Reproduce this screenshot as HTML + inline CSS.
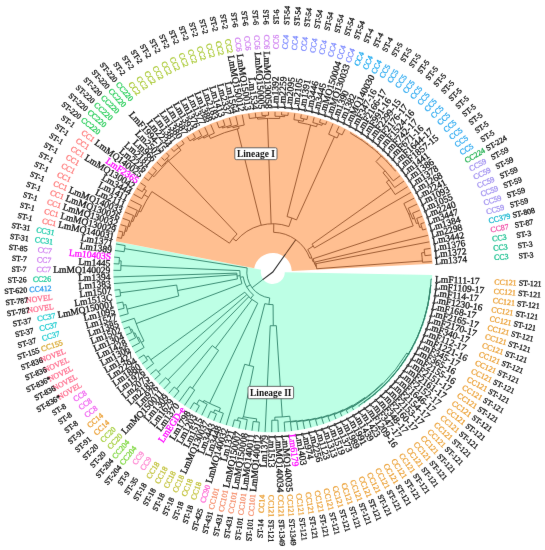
<!DOCTYPE html>
<html><head><meta charset="utf-8"><title>Phylogenetic tree</title>
<style>html,body{margin:0;padding:0;background:#fff;width:545px;height:550px;overflow:hidden}
svg{display:block} text{font-family:"Liberation Serif","Times New Roman",serif;stroke-width:0.3px}</style></head>
<body><svg width="545" height="550" viewBox="0 0 545 550" font-family="Liberation Serif, Times New Roman, serif" fill="#111"><defs><filter id="bl" color-interpolation-filters="sRGB" x="0" y="0" width="100%" height="100%" filterUnits="userSpaceOnUse"><feConvolveMatrix order="3" kernelMatrix="0.00276 0.04704 0.00276 0.04704 0.80077 0.04704 0.00276 0.04704 0.00276" edgeMode="duplicate" preserveAlpha="false"/></filter></defs><g filter="url(#bl)"><g transform="translate(0 272.0) scale(1 1.005) translate(0 -272.0)"><path d="M432.27,275.06 A159.5,159.5 0 1 1 116.23,241.57 L261.02,269.71 A12,12 0 1 0 284.80,272.23 Z" fill="#BDFFE5"/>
<path d="M115.74,241.47 A160,160 0 0 1 432.60,263.91 L291.78,271.04 A19,19 0 0 0 254.15,268.37 Z" fill="#FFBF91"/>
<path d="M273.63,232.51A39.5,39.5 0 0 1 309.87,258.36M273.63,232.51L273.81,224.01M236.03,241.15A48,48 0 0 1 288.86,226.77M236.03,241.15L232.97,238.58M229.44,243.30A52,52 0 0 1 237.07,234.22M229.44,243.30L151.89,191.97M140.73,212.15A145,145 0 0 1 151.89,191.97M140.73,212.15L138.91,211.33M136.54,216.84A147,147 0 0 1 141.49,205.92M136.54,216.84L135.06,216.24M132.93,221.81A148.6,148.6 0 0 1 137.41,210.75M132.93,221.81L131.43,221.27M129.56,226.80A150.2,150.2 0 0 1 133.50,215.82M129.56,226.80L128.04,226.32M126.48,231.59A151.79999999999998,151.79999999999998 0 0 1 129.79,221.10M126.48,231.59L124.93,231.17M123.74,235.78A153.39999999999998,153.39999999999998 0 0 1 126.27,226.59M123.74,235.78L122.18,235.40M121.46,238.53A154.99999999999997,154.99999999999997 0 0 1 122.97,232.29M121.46,238.53L117.26,237.60M122.97,232.29L118.82,231.19M126.27,226.59L120.64,224.85M129.79,221.10L122.72,218.58M133.50,215.82L125.06,212.41M137.41,210.75L127.66,206.34M141.49,205.92L130.50,200.39M148.34,197.60L144.05,195.04M141.72,199.08A150,150 0 0 1 146.50,191.08M141.72,199.08L133.59,194.56M146.50,191.08L143.98,189.46M142.29,192.14A153,153 0 0 1 145.71,186.81M142.29,192.14L136.92,188.86M145.71,186.81L140.48,183.30M237.07,234.22L168.36,161.56M153.98,177.20A152,152 0 0 1 180.96,150.88M153.98,177.20L152.42,175.96M148.54,181.03A154,154 0 0 1 156.50,171.05M148.54,181.03L144.27,177.89M152.42,175.96L148.28,172.65M156.50,171.05L152.50,167.58M165.53,164.31L164.83,163.60M161.51,167.01A153,153 0 0 1 168.25,160.30M161.51,167.01L156.93,162.68M168.25,160.30L166.88,158.84M164.56,161.06A155,155 0 0 1 169.25,156.67M164.56,161.06L161.55,157.98M169.25,156.67L166.37,153.47M180.96,150.88L178.85,148.09M173.79,152.09A155.5,155.5 0 0 1 184.06,144.31M173.79,152.09L171.37,149.16M178.85,148.09L176.55,145.07M184.06,144.31L181.89,141.19M261.19,225.43L237.29,129.56M210.40,139.12A146.8,146.8 0 0 1 239.07,129.13M210.40,139.12L209.04,136.22M203.82,138.80A150,150 0 0 1 214.36,133.85M203.82,138.80L203.13,137.47M198.30,140.08A151.5,151.5 0 0 1 208.05,135.03M198.30,140.08L197.56,138.78M193.46,141.18A153.0,153.0 0 0 1 201.74,136.50M193.46,141.18L192.68,139.90M189.96,141.59A154.5,154.5 0 0 1 195.43,138.27M189.96,141.59L187.39,137.53M195.43,138.27L193.03,134.11M201.74,136.50L198.81,130.93M208.05,135.03L204.72,127.98M214.36,133.85L210.74,125.29M239.07,129.13L238.56,126.99M232.96,128.43A149,149 0 0 1 244.22,125.77M232.96,128.43L232.58,127.08M227.36,128.63A150.4,150.4 0 0 1 237.86,125.71M227.36,128.63L226.93,127.29M222.46,128.79A151.8,151.8 0 0 1 231.45,125.94M222.46,128.79L222.00,127.47M219.01,128.55A153.20000000000002,153.20000000000002 0 0 1 225.00,126.45M219.01,128.55L216.87,122.84M225.00,126.45L223.10,120.65M231.45,125.94L229.41,118.72M237.86,125.71L235.80,117.06M244.22,125.77L242.25,115.66M271.12,224.03L267.46,119.19M257.57,119.86A152.9,152.9 0 0 1 279.72,119.26M257.57,119.86L257.41,118.27M249.47,119.27A154.5,154.5 0 0 1 265.39,117.68M249.47,119.27L248.75,114.53M255.82,118.44L255.29,113.67M265.39,117.68L265.32,116.18M262.09,116.37A156,156 0 0 1 268.55,116.06M262.09,116.37L261.87,113.08M268.55,116.06L268.46,112.76M279.72,119.26L279.81,117.16M275.00,117.02A155,155 0 0 1 284.62,117.45M275.00,117.02L275.06,112.72M284.62,117.45L284.73,115.96M281.50,115.74A156.5,156.5 0 0 1 287.96,116.24M281.50,115.74L281.65,112.95M287.96,116.24L288.23,113.45M288.86,226.77L291.87,218.29M287.07,216.82A57,57 0 0 1 296.53,220.17M287.07,216.82L310.63,125.71M298.30,123.07A151.1,151.1 0 0 1 316.56,127.38M298.30,123.07L298.62,121.19M293.92,120.46A153,153 0 0 1 303.29,122.07M293.92,120.46L294.79,114.22M303.29,122.07L303.79,119.62M300.63,119.01A155.5,155.5 0 0 1 306.94,120.29M300.63,119.01L301.31,115.27M306.94,120.29L307.77,116.59M316.56,127.38L317.40,124.60M312.80,123.29A154,154 0 0 1 321.96,126.06M312.80,123.29L314.18,118.17M321.96,126.06L322.60,124.16M319.53,123.16A156,156 0 0 1 325.65,125.23M319.53,123.16L320.52,120.01M325.65,125.23L326.77,122.12M296.53,220.17L334.41,137.43M328.67,134.95A148,148 0 0 1 337.07,138.68M328.67,134.95L332.93,124.49M337.07,138.68L339.24,134.18M336.37,132.83A153,153 0 0 1 342.08,135.59M336.37,132.83L338.99,127.10M342.08,135.59L344.94,129.97M309.87,258.36L311.75,257.67M307.79,249.68A41.5,41.5 0 0 1 313.03,261.79M307.79,249.68L313.27,246.19M312.01,244.32A48,48 0 0 1 314.44,248.12M312.01,244.32L390.93,188.60M386.38,182.51A144.6,144.6 0 0 1 395.14,194.92M386.38,182.51L389.05,180.41M382.99,173.20A148,148 0 0 1 394.64,187.99M382.99,173.20L385.08,171.33M376.03,162.07A150.8,150.8 0 0 1 393.30,181.33M376.03,162.07L381.30,156.46M350.37,133.78A158.5,158.5 0 0 1 395.39,171.54M350.37,133.78L350.76,133.08M356.03,137.11L356.45,136.43M361.54,140.67L361.99,140.01M366.91,144.46L367.38,143.82M372.11,148.47L372.61,147.84M377.14,152.69L377.67,152.09M381.99,157.11L382.54,156.53M386.66,161.73L387.23,161.18M391.13,166.54L391.72,166.01M395.39,171.54L396.01,171.03M393.30,181.33L400.09,176.22M394.64,187.99L403.95,181.57M395.14,194.92L407.58,187.08M314.44,248.12L410.98,192.74M313.03,261.79L313.99,261.55M313.20,258.80A42.5,42.5 0 0 1 314.61,264.35M313.20,258.80L413.19,226.11M403.85,203.88A147.7,147.7 0 0 1 413.19,226.11M403.85,203.88L414.15,198.53M408.89,214.61L410.55,213.91M408.19,208.61A149.5,149.5 0 0 1 412.71,219.31M408.19,208.61L417.07,204.45M412.71,219.31L414.58,218.60M412.55,213.50A151.5,151.5 0 0 1 416.42,223.77M412.55,213.50L419.74,210.48M416.42,223.77L418.32,223.14M416.73,218.64A153.5,153.5 0 0 1 419.76,227.68M416.73,218.64L422.17,216.62M419.76,227.68L421.68,227.10M420.72,224.03A155.5,155.5 0 0 1 422.58,230.20M420.72,224.03L424.33,222.86M422.58,230.20L426.24,229.18M314.61,264.35L315.29,264.22M314.86,262.12A43.2,43.2 0 0 1 315.63,266.34M314.86,262.12L427.88,235.57M315.63,266.34L316.42,266.24M316.01,263.72A44,44 0 0 1 316.68,268.78M316.01,263.72L429.25,242.02M316.68,268.78L422.40,261.01M421.59,252.98A150,150 0 0 1 422.48,262.26M421.59,252.98L424.56,252.60M424.13,249.46A153,153 0 0 1 424.93,255.75M424.13,249.46L430.36,248.53M424.93,255.75L431.20,255.08M422.48,262.26L431.76,261.65" fill="none" stroke="#94522A" stroke-width="0.9"/>
<path d="M269.69,297.81A26,26 0 0 1 247.11,267.97M247.11,267.97L124.61,248.77M124.16,251.84A150,150 0 0 1 125.12,245.71M124.16,251.84L114.94,250.60M125.12,245.71L115.97,244.08M250.17,284.81L246.69,286.78M253.48,294.95A30,30 0 0 1 243.18,276.75M253.48,294.95L250.58,298.39M257.78,303.06A34.5,34.5 0 0 1 244.75,292.08M257.78,303.06L209.60,402.73M220.39,407.41A145.2,145.2 0 0 1 204.00,399.87M220.39,407.41L219.01,410.95M223.36,412.56A149,149 0 0 1 214.72,409.22M223.36,412.56L219.94,422.27M214.72,409.22L213.55,411.98M216.47,413.18A152,152 0 0 1 210.67,410.72M216.47,413.18L213.76,419.96M210.67,410.72L207.68,417.38M204.00,399.87L203.15,401.45M207.20,403.55A147,147 0 0 1 199.16,399.22M207.20,403.55L201.72,414.56M199.16,399.22L196.66,403.55M199.40,405.10A152,152 0 0 1 193.95,401.95M199.40,405.10L195.87,411.49M193.95,401.95L190.16,408.19M251.95,299.49L215.38,347.69M218.57,350.00A95,95 0 0 1 212.30,345.24M218.57,350.00L192.31,387.77M194.72,389.41A141,141 0 0 1 189.93,386.07M194.72,389.41L184.59,404.65M189.93,386.07L179.17,400.88M212.30,345.24L176.63,388.42M179.06,390.38A151,151 0 0 1 174.24,386.40M179.06,390.38L173.91,396.89M174.24,386.40L168.82,392.69M248.70,296.69L168.02,379.34M170.27,381.49A150,150 0 0 1 165.82,377.15M170.27,381.49L163.91,388.28M165.82,377.15L159.19,383.67M246.74,294.61L158.22,371.41M160.30,373.77A151.7,151.7 0 0 1 156.18,369.02M160.30,373.77L154.66,378.86M156.18,369.02L150.34,373.88M244.75,292.08L150.84,359.33M153.61,363.07A150,150 0 0 1 148.19,355.49M153.61,363.07L146.22,368.72M148.19,355.49L145.69,357.16M147.49,359.78A153,153 0 0 1 143.96,354.51M147.49,359.78L142.33,363.39M143.96,354.51L138.65,357.91M243.18,276.75L240.22,277.22M241.91,283.61A33,33 0 0 1 239.83,270.63M241.91,283.61L136.14,323.37M143.93,340.62A146,146 0 0 1 134.26,318.07M143.93,340.62L141.29,342.03M144.10,347.09A149,149 0 0 1 138.66,336.87M144.10,347.09L135.21,352.28M138.66,336.87L137.31,337.53M139.78,342.40A150.5,150.5 0 0 1 135.03,332.57M139.78,342.40L132.00,346.51M135.03,332.57L133.66,333.18M135.62,337.47A152.0,152.0 0 0 1 131.82,328.82M135.62,337.47L129.03,340.62M131.82,328.82L130.43,329.39M131.65,332.32A153.5,153.5 0 0 1 129.27,326.42M131.65,332.32L126.32,334.60M129.27,326.42L123.85,328.48M134.26,318.07L121.64,322.26M240.00,275.66L237.02,276.00M237.46,278.85A36,36 0 0 1 236.82,273.11M237.46,278.85L177.57,290.46M178.78,295.86A97,97 0 0 1 176.68,285.01M178.78,295.86L127.02,308.99M128.24,313.50A150.4,150.4 0 0 1 125.94,304.44M128.24,313.50L119.68,315.96M125.94,304.44L123.40,305.00M124.12,308.09A153,153 0 0 1 122.75,301.90M124.12,308.09L118.00,309.58M122.75,301.90L116.57,303.13M176.68,285.01L120.19,292.66M120.65,295.81A154,154 0 0 1 119.80,289.49M120.65,295.81L115.42,296.63M119.80,289.49L114.53,290.09M236.89,274.60L113.92,283.52M236.82,273.11L113.58,276.93M239.83,270.63L120.93,265.69M120.81,270.41A152,152 0 0 1 121.20,260.97M120.81,270.41L113.51,270.33M121.20,260.97L119.21,260.83M119.01,264.01A154,154 0 0 1 119.47,257.65M119.01,264.01L113.71,263.74M119.47,257.65L114.19,257.15M269.69,297.81L268.91,304.27M273.09,304.50A32.5,32.5 0 0 1 264.80,303.50M264.80,303.50L249.16,365.04M253.66,366.07A96,96 0 0 1 244.72,363.80M244.72,363.80L226.21,424.33M253.66,366.07L243.49,416.05M256.61,418.11A147,147 0 0 1 243.08,415.96M256.61,418.11L256.28,421.09M259.37,421.40A150,150 0 0 1 253.20,420.71M259.37,421.40L258.54,430.66M253.20,420.71L251.98,429.93M243.08,415.96L242.68,417.92M247.22,418.79A149,149 0 0 1 238.16,416.92M247.22,418.79L245.46,428.94M238.16,416.92L237.46,419.83M240.53,420.53A152,152 0 0 1 234.40,419.07M240.53,420.53L238.98,427.67M234.40,419.07L232.56,426.13M273.09,304.50L273.27,325.50M276.32,325.38A53.5,53.5 0 0 1 270.22,325.44M270.22,325.44L265.12,431.11M276.32,325.38L282.30,416.19M289.76,415.50A144.5,144.5 0 0 1 274.82,416.49M289.76,415.50L290.38,420.76M296.54,419.91A149.8,149.8 0 0 1 284.19,421.37M296.54,419.91L296.64,420.50M302.80,419.38A150.4,150.4 0 0 1 290.44,421.36M302.80,419.38L302.92,419.97M309.08,418.58A151.0,151.0 0 0 1 296.70,421.10M309.08,418.58L309.22,419.16M315.41,417.49A151.6,151.6 0 0 1 302.98,420.57M315.41,417.49L315.58,418.07M321.82,416.09A152.20000000000002,152.20000000000002 0 0 1 309.25,419.77M321.82,416.09L322.02,416.66M328.43,414.31A152.8,152.8 0 0 1 315.51,418.71M328.43,414.31L328.64,414.87M335.42,412.04A153.4,153.4 0 0 1 321.74,417.38M335.42,412.04L335.67,412.58M343.22,408.96A154.0,154.0 0 0 1 327.93,415.79M343.22,408.96L343.49,409.49M352.58,404.42A154.6,154.6 0 0 1 334.08,413.94M352.58,404.42L352.89,404.94M364.92,396.91A155.20000000000002,155.20000000000002 0 0 1 340.17,411.82M364.92,396.91L365.27,397.39M382.42,382.71A155.8,155.8 0 0 1 346.18,409.44M382.42,382.71L382.85,383.13M406.81,352.64A156.4,156.4 0 0 1 352.12,406.79M406.81,352.64L408.52,353.67M430.62,285.60A158.4,158.4 0 0 1 358.72,405.07M430.62,285.60L430.62,285.60M431.04,279.05A158.4,158.4 0 0 1 429.92,292.12M431.04,279.05L431.94,279.09M429.92,292.12L429.92,292.12M430.62,285.60A158.4,158.4 0 0 1 428.95,298.61M430.62,285.60L431.51,285.67M428.95,298.61L428.95,298.61M429.92,292.12A158.4,158.4 0 0 1 427.71,305.06M429.92,292.12L430.81,292.24M427.71,305.06L427.71,305.06M428.95,298.61A158.4,158.4 0 0 1 426.21,311.45M428.95,298.61L429.84,298.76M426.21,311.45L426.21,311.45M427.71,305.06A158.4,158.4 0 0 1 424.44,317.77M427.71,305.06L428.59,305.25M424.44,317.77L424.44,317.77M426.21,311.45A158.4,158.4 0 0 1 422.42,324.01M426.21,311.45L427.08,311.67M422.42,324.01L422.42,324.01M424.44,317.77A158.4,158.4 0 0 1 420.14,330.16M424.44,317.77L425.31,318.03M420.14,330.16L420.14,330.16M422.42,324.01A158.4,158.4 0 0 1 417.60,336.21M422.42,324.01L423.27,324.30M417.60,336.21L417.60,336.21M420.14,330.16A158.4,158.4 0 0 1 414.82,342.16M420.14,330.16L420.97,330.49M414.82,342.16L414.82,342.16M417.60,336.21A158.4,158.4 0 0 1 411.79,347.98M417.60,336.21L418.42,336.58M411.79,347.98L411.79,347.98M414.82,342.16A158.4,158.4 0 0 1 408.52,353.67M414.82,342.16L415.62,342.56M408.52,353.67L408.52,353.67M411.79,347.98A158.4,158.4 0 0 1 405.03,359.22M411.79,347.98L412.58,348.41M405.03,359.22L405.03,359.22M408.52,353.67A158.4,158.4 0 0 1 401.30,364.62M408.52,353.67L409.29,354.14M401.30,364.62L401.30,364.62M405.02,359.22A158.4,158.4 0 0 1 397.36,369.85M405.02,359.22L405.77,359.72M397.36,369.85L397.36,369.85M401.30,364.63A158.4,158.4 0 0 1 393.22,374.91M401.30,364.63L402.03,365.15M393.22,374.91L393.22,374.91M397.35,369.87A158.4,158.4 0 0 1 388.89,379.77M397.35,369.87L398.06,370.43M388.89,379.77L388.89,379.77M393.19,374.94A158.4,158.4 0 0 1 384.40,384.41M393.19,374.94L393.87,375.53M384.40,384.41L384.40,384.41M388.82,379.84A158.4,158.4 0 0 1 379.80,388.80M388.82,379.84L389.48,380.46M379.80,388.80L379.80,388.80M384.25,384.56A158.4,158.4 0 0 1 375.18,392.87M384.25,384.56L384.89,385.20M375.18,392.87L375.18,392.87M379.50,389.08A158.4,158.4 0 0 1 370.73,396.50M379.50,389.08L380.10,389.74M370.73,396.50L370.73,396.50M374.55,393.39A158.4,158.4 0 0 1 366.82,399.48M374.55,393.39L375.13,394.08M366.82,399.48L366.82,399.48M369.44,397.51A158.4,158.4 0 0 1 364.16,401.40M369.44,397.51L369.99,398.22M364.16,401.40L364.68,402.14M358.72,405.07L359.21,405.83M352.12,406.79L353.59,409.29M346.18,409.44L347.83,412.52M340.17,411.82L341.95,415.51M334.08,413.94L335.94,418.25M327.93,415.79L329.83,420.74M321.74,417.38L323.62,422.98M315.51,418.71L317.32,424.95M309.25,419.77L310.95,426.66M302.98,420.57L304.51,428.11M296.70,421.10L298.02,429.29M290.44,421.36L291.48,430.20M284.19,421.37L284.91,430.84M274.82,416.49L274.86,419.49M277.91,419.41A147.5,147.5 0 0 1 271.80,419.50M277.91,419.41L278.32,431.20M271.80,419.50L271.72,431.30" fill="none" stroke="#2E8068" stroke-width="0.9"/>
<path d="M262.43,279.84L272.8,272.0L285.58,254.09" fill="none" stroke="#2a2a2a" stroke-width="1.1"/>
<path d="M252.07,287.69L262.43,279.84" fill="none" stroke="#2E8068" stroke-width="0.9"/>
<path d="M285.58,254.09L295.74,239.84" fill="none" stroke="#6b3a1c" stroke-width="1"/>
<text x="435.14" y="279.23" transform="rotate(2.55 435.14 279.23)" text-anchor="start" dominant-baseline="central" style="font-size:9.5px" fill="#111" stroke="#111">LmF111-17</text>
<text x="494.38" y="281.87" transform="rotate(2.55 494.38 281.87)" text-anchor="start" dominant-baseline="central" style="font-size:7.85px" fill="#EBA035" stroke="#EBA035" stroke-width="0.18">CC121</text>
<text x="518.86" y="282.96" transform="rotate(2.55 518.86 282.96)" text-anchor="start" dominant-baseline="central" style="font-size:7.85px" fill="#111" stroke="#111">ST-121</text>
<text x="434.70" y="285.95" transform="rotate(4.92 434.70 285.95)" text-anchor="start" dominant-baseline="central" style="font-size:9.5px" fill="#111" stroke="#111">LmF1109-17</text>
<text x="493.78" y="291.04" transform="rotate(4.92 493.78 291.04)" text-anchor="start" dominant-baseline="central" style="font-size:7.85px" fill="#EBA035" stroke="#EBA035" stroke-width="0.18">CC121</text>
<text x="518.19" y="293.14" transform="rotate(4.92 518.19 293.14)" text-anchor="start" dominant-baseline="central" style="font-size:7.85px" fill="#111" stroke="#111">ST-121</text>
<text x="433.98" y="292.64" transform="rotate(7.30 433.98 292.64)" text-anchor="start" dominant-baseline="central" style="font-size:9.5px" fill="#111" stroke="#111">LmF114-17</text>
<text x="492.80" y="300.18" transform="rotate(7.30 492.80 300.18)" text-anchor="start" dominant-baseline="central" style="font-size:7.85px" fill="#EBA035" stroke="#EBA035" stroke-width="0.18">CC121</text>
<text x="517.10" y="303.29" transform="rotate(7.30 517.10 303.29)" text-anchor="start" dominant-baseline="central" style="font-size:7.85px" fill="#111" stroke="#111">ST-121</text>
<text x="432.99" y="299.30" transform="rotate(9.67 432.99 299.30)" text-anchor="start" dominant-baseline="central" style="font-size:9.5px" fill="#111" stroke="#111">LmF1230-16</text>
<text x="491.45" y="309.26" transform="rotate(9.67 491.45 309.26)" text-anchor="start" dominant-baseline="central" style="font-size:7.85px" fill="#EBA035" stroke="#EBA035" stroke-width="0.18">CC121</text>
<text x="515.60" y="313.38" transform="rotate(9.67 515.60 313.38)" text-anchor="start" dominant-baseline="central" style="font-size:7.85px" fill="#111" stroke="#111">ST-121</text>
<text x="431.72" y="305.91" transform="rotate(12.05 431.72 305.91)" text-anchor="start" dominant-baseline="central" style="font-size:9.5px" fill="#111" stroke="#111">LmF168-17</text>
<text x="489.72" y="318.29" transform="rotate(12.05 489.72 318.29)" text-anchor="start" dominant-baseline="central" style="font-size:7.85px" fill="#EBA035" stroke="#EBA035" stroke-width="0.18">CC121</text>
<text x="513.68" y="323.40" transform="rotate(12.05 513.68 323.40)" text-anchor="start" dominant-baseline="central" style="font-size:7.85px" fill="#111" stroke="#111">ST-121</text>
<text x="430.18" y="312.47" transform="rotate(14.42 430.18 312.47)" text-anchor="start" dominant-baseline="central" style="font-size:9.5px" fill="#111" stroke="#111">LmF2165-17</text>
<text x="487.61" y="327.23" transform="rotate(14.42 487.61 327.23)" text-anchor="start" dominant-baseline="central" style="font-size:7.85px" fill="#EBA035" stroke="#EBA035" stroke-width="0.18">CC121</text>
<text x="511.34" y="333.34" transform="rotate(14.42 511.34 333.34)" text-anchor="start" dominant-baseline="central" style="font-size:7.85px" fill="#111" stroke="#111">ST-121</text>
<text x="428.37" y="318.95" transform="rotate(16.79 428.37 318.95)" text-anchor="start" dominant-baseline="central" style="font-size:9.5px" fill="#111" stroke="#111">LmF2170-17</text>
<text x="485.14" y="336.09" transform="rotate(16.79 485.14 336.09)" text-anchor="start" dominant-baseline="central" style="font-size:7.85px" fill="#EBA035" stroke="#EBA035" stroke-width="0.18">CC121</text>
<text x="508.60" y="343.16" transform="rotate(16.79 508.60 343.16)" text-anchor="start" dominant-baseline="central" style="font-size:7.85px" fill="#111" stroke="#111">ST-121</text>
<text x="426.29" y="325.36" transform="rotate(19.17 426.29 325.36)" text-anchor="start" dominant-baseline="central" style="font-size:9.5px" fill="#111" stroke="#111">LmF340-17</text>
<text x="482.30" y="344.83" transform="rotate(19.17 482.30 344.83)" text-anchor="start" dominant-baseline="central" style="font-size:7.85px" fill="#EBA035" stroke="#EBA035" stroke-width="0.18">CC121</text>
<text x="505.45" y="352.87" transform="rotate(19.17 505.45 352.87)" text-anchor="start" dominant-baseline="central" style="font-size:7.85px" fill="#111" stroke="#111">ST-121</text>
<text x="423.95" y="331.67" transform="rotate(21.54 423.95 331.67)" text-anchor="start" dominant-baseline="central" style="font-size:9.5px" fill="#111" stroke="#111">LmF112-17</text>
<text x="479.11" y="353.44" transform="rotate(21.54 479.11 353.44)" text-anchor="start" dominant-baseline="central" style="font-size:7.85px" fill="#EBA035" stroke="#EBA035" stroke-width="0.18">CC121</text>
<text x="501.90" y="362.44" transform="rotate(21.54 501.90 362.44)" text-anchor="start" dominant-baseline="central" style="font-size:7.85px" fill="#111" stroke="#111">ST-121</text>
<text x="421.35" y="337.88" transform="rotate(23.92 421.35 337.88)" text-anchor="start" dominant-baseline="central" style="font-size:9.5px" fill="#111" stroke="#111">LmF1221-16</text>
<text x="475.56" y="361.92" transform="rotate(23.92 475.56 361.92)" text-anchor="start" dominant-baseline="central" style="font-size:7.85px" fill="#EBA035" stroke="#EBA035" stroke-width="0.18">CC121</text>
<text x="497.95" y="371.85" transform="rotate(23.92 497.95 371.85)" text-anchor="start" dominant-baseline="central" style="font-size:7.85px" fill="#111" stroke="#111">ST-121</text>
<text x="418.49" y="343.97" transform="rotate(26.29 418.49 343.97)" text-anchor="start" dominant-baseline="central" style="font-size:9.5px" fill="#111" stroke="#111">LmF345-17</text>
<text x="471.66" y="370.24" transform="rotate(26.29 471.66 370.24)" text-anchor="start" dominant-baseline="central" style="font-size:7.85px" fill="#EBA035" stroke="#EBA035" stroke-width="0.18">CC121</text>
<text x="493.62" y="381.09" transform="rotate(26.29 493.62 381.09)" text-anchor="start" dominant-baseline="central" style="font-size:7.85px" fill="#111" stroke="#111">ST-121</text>
<text x="415.39" y="349.95" transform="rotate(28.66 415.39 349.95)" text-anchor="start" dominant-baseline="central" style="font-size:9.5px" fill="#111" stroke="#111">LmF365-16</text>
<text x="467.42" y="378.39" transform="rotate(28.66 467.42 378.39)" text-anchor="start" dominant-baseline="central" style="font-size:7.85px" fill="#EBA035" stroke="#EBA035" stroke-width="0.18">CC121</text>
<text x="488.92" y="390.14" transform="rotate(28.66 488.92 390.14)" text-anchor="start" dominant-baseline="central" style="font-size:7.85px" fill="#111" stroke="#111">ST-121</text>
<text x="412.03" y="355.79" transform="rotate(31.04 412.03 355.79)" text-anchor="start" dominant-baseline="central" style="font-size:9.5px" fill="#111" stroke="#111">LmF2155-16</text>
<text x="462.84" y="386.36" transform="rotate(31.04 462.84 386.36)" text-anchor="start" dominant-baseline="central" style="font-size:7.85px" fill="#EBA035" stroke="#EBA035" stroke-width="0.18">CC121</text>
<text x="483.84" y="398.99" transform="rotate(31.04 483.84 398.99)" text-anchor="start" dominant-baseline="central" style="font-size:7.85px" fill="#111" stroke="#111">ST-121</text>
<text x="408.44" y="361.48" transform="rotate(33.41 408.44 361.48)" text-anchor="start" dominant-baseline="central" style="font-size:9.5px" fill="#111" stroke="#111">LmF2151-17</text>
<text x="457.94" y="394.14" transform="rotate(33.41 457.94 394.14)" text-anchor="start" dominant-baseline="central" style="font-size:7.85px" fill="#EBA035" stroke="#EBA035" stroke-width="0.18">CC121</text>
<text x="478.39" y="407.63" transform="rotate(33.41 478.39 407.63)" text-anchor="start" dominant-baseline="central" style="font-size:7.85px" fill="#111" stroke="#111">ST-121</text>
<text x="404.62" y="367.02" transform="rotate(35.79 404.62 367.02)" text-anchor="start" dominant-baseline="central" style="font-size:9.5px" fill="#111" stroke="#111">LmF2161-17</text>
<text x="452.73" y="401.70" transform="rotate(35.79 452.73 401.70)" text-anchor="start" dominant-baseline="central" style="font-size:7.85px" fill="#EBA035" stroke="#EBA035" stroke-width="0.18">CC121</text>
<text x="472.60" y="416.03" transform="rotate(35.79 472.60 416.03)" text-anchor="start" dominant-baseline="central" style="font-size:7.85px" fill="#111" stroke="#111">ST-121</text>
<text x="400.57" y="372.40" transform="rotate(38.16 400.57 372.40)" text-anchor="start" dominant-baseline="central" style="font-size:9.5px" fill="#111" stroke="#111">LmF2152-17</text>
<text x="447.20" y="409.04" transform="rotate(38.16 447.20 409.04)" text-anchor="start" dominant-baseline="central" style="font-size:7.85px" fill="#EBA035" stroke="#EBA035" stroke-width="0.18">CC121</text>
<text x="466.46" y="424.18" transform="rotate(38.16 466.46 424.18)" text-anchor="start" dominant-baseline="central" style="font-size:7.85px" fill="#111" stroke="#111">ST-121</text>
<text x="396.30" y="377.61" transform="rotate(40.53 396.30 377.61)" text-anchor="start" dominant-baseline="central" style="font-size:9.5px" fill="#111" stroke="#111">LmF1646-17</text>
<text x="441.37" y="416.15" transform="rotate(40.53 441.37 416.15)" text-anchor="start" dominant-baseline="central" style="font-size:7.85px" fill="#EBA035" stroke="#EBA035" stroke-width="0.18">CC121</text>
<text x="459.99" y="432.07" transform="rotate(40.53 459.99 432.07)" text-anchor="start" dominant-baseline="central" style="font-size:7.85px" fill="#111" stroke="#111">ST-121</text>
<text x="391.82" y="382.63" transform="rotate(42.91 391.82 382.63)" text-anchor="start" dominant-baseline="central" style="font-size:9.5px" fill="#111" stroke="#111">LmF2154-17</text>
<text x="435.26" y="423.01" transform="rotate(42.91 435.26 423.01)" text-anchor="start" dominant-baseline="central" style="font-size:7.85px" fill="#EBA035" stroke="#EBA035" stroke-width="0.18">CC121</text>
<text x="453.20" y="439.69" transform="rotate(42.91 453.20 439.69)" text-anchor="start" dominant-baseline="central" style="font-size:7.85px" fill="#111" stroke="#111">ST-121</text>
<text x="387.14" y="387.47" transform="rotate(45.28 387.14 387.47)" text-anchor="start" dominant-baseline="central" style="font-size:9.5px" fill="#111" stroke="#111">LmF2153-17</text>
<text x="428.86" y="429.61" transform="rotate(45.28 428.86 429.61)" text-anchor="start" dominant-baseline="central" style="font-size:7.85px" fill="#EBA035" stroke="#EBA035" stroke-width="0.18">CC121</text>
<text x="446.10" y="447.02" transform="rotate(45.28 446.10 447.02)" text-anchor="start" dominant-baseline="central" style="font-size:7.85px" fill="#111" stroke="#111">ST-121</text>
<text x="382.26" y="392.11" transform="rotate(47.66 382.26 392.11)" text-anchor="start" dominant-baseline="central" style="font-size:9.5px" fill="#111" stroke="#111">LmF2160-17</text>
<text x="422.20" y="435.94" transform="rotate(47.66 422.20 435.94)" text-anchor="start" dominant-baseline="central" style="font-size:7.85px" fill="#EBA035" stroke="#EBA035" stroke-width="0.18">CC121</text>
<text x="438.70" y="454.04" transform="rotate(47.66 438.70 454.04)" text-anchor="start" dominant-baseline="central" style="font-size:7.85px" fill="#111" stroke="#111">ST-121</text>
<text x="377.19" y="396.54" transform="rotate(50.03 377.19 396.54)" text-anchor="start" dominant-baseline="central" style="font-size:9.5px" fill="#111" stroke="#111">LmF348-17</text>
<text x="415.28" y="441.98" transform="rotate(50.03 415.28 441.98)" text-anchor="start" dominant-baseline="central" style="font-size:7.85px" fill="#EBA035" stroke="#EBA035" stroke-width="0.18">CC121</text>
<text x="431.02" y="460.76" transform="rotate(50.03 431.02 460.76)" text-anchor="start" dominant-baseline="central" style="font-size:7.85px" fill="#111" stroke="#111">ST-121</text>
<text x="371.94" y="400.75" transform="rotate(52.40 371.94 400.75)" text-anchor="start" dominant-baseline="central" style="font-size:9.5px" fill="#111" stroke="#111">LmF347-17</text>
<text x="408.12" y="447.74" transform="rotate(52.40 408.12 447.74)" text-anchor="start" dominant-baseline="central" style="font-size:7.85px" fill="#EBA035" stroke="#EBA035" stroke-width="0.18">CC121</text>
<text x="423.07" y="467.15" transform="rotate(52.40 423.07 467.15)" text-anchor="start" dominant-baseline="central" style="font-size:7.85px" fill="#111" stroke="#111">ST-121</text>
<text x="366.52" y="404.75" transform="rotate(54.78 366.52 404.75)" text-anchor="start" dominant-baseline="central" style="font-size:9.5px" fill="#111" stroke="#111">LmF1209-16</text>
<text x="400.72" y="453.19" transform="rotate(54.78 400.72 453.19)" text-anchor="start" dominant-baseline="central" style="font-size:7.85px" fill="#EBA035" stroke="#EBA035" stroke-width="0.18">CC121</text>
<text x="414.85" y="473.21" transform="rotate(54.78 414.85 473.21)" text-anchor="start" dominant-baseline="central" style="font-size:7.85px" fill="#111" stroke="#111">ST-121</text>
<text x="360.94" y="408.52" transform="rotate(57.15 360.94 408.52)" text-anchor="start" dominant-baseline="central" style="font-size:9.5px" fill="#111" stroke="#111">Lm1423</text>
<text x="393.11" y="458.34" transform="rotate(57.15 393.11 458.34)" text-anchor="start" dominant-baseline="central" style="font-size:7.85px" fill="#EBA035" stroke="#EBA035" stroke-width="0.18">CC121</text>
<text x="406.40" y="478.92" transform="rotate(57.15 406.40 478.92)" text-anchor="start" dominant-baseline="central" style="font-size:7.85px" fill="#111" stroke="#111">ST-121</text>
<text x="355.21" y="412.05" transform="rotate(59.53 355.21 412.05)" text-anchor="start" dominant-baseline="central" style="font-size:9.5px" fill="#111" stroke="#111">Lm1439</text>
<text x="385.29" y="463.16" transform="rotate(59.53 385.29 463.16)" text-anchor="start" dominant-baseline="central" style="font-size:7.85px" fill="#EBA035" stroke="#EBA035" stroke-width="0.18">CC121</text>
<text x="397.71" y="484.28" transform="rotate(59.53 397.71 484.28)" text-anchor="start" dominant-baseline="central" style="font-size:7.85px" fill="#111" stroke="#111">ST-121</text>
<text x="349.34" y="415.35" transform="rotate(61.90 349.34 415.35)" text-anchor="start" dominant-baseline="central" style="font-size:9.5px" fill="#111" stroke="#111">Lm1991</text>
<text x="377.27" y="467.66" transform="rotate(61.90 377.27 467.66)" text-anchor="start" dominant-baseline="central" style="font-size:7.85px" fill="#EBA035" stroke="#EBA035" stroke-width="0.18">CC121</text>
<text x="388.81" y="489.27" transform="rotate(61.90 388.81 489.27)" text-anchor="start" dominant-baseline="central" style="font-size:7.85px" fill="#111" stroke="#111">ST-121</text>
<text x="343.34" y="418.39" transform="rotate(64.27 343.34 418.39)" text-anchor="start" dominant-baseline="central" style="font-size:9.5px" fill="#111" stroke="#111">Lm1989</text>
<text x="369.08" y="471.82" transform="rotate(64.27 369.08 471.82)" text-anchor="start" dominant-baseline="central" style="font-size:7.85px" fill="#EBA035" stroke="#EBA035" stroke-width="0.18">CC121</text>
<text x="379.71" y="493.89" transform="rotate(64.27 379.71 493.89)" text-anchor="start" dominant-baseline="central" style="font-size:7.85px" fill="#111" stroke="#111">ST-121</text>
<text x="337.21" y="421.19" transform="rotate(66.65 337.21 421.19)" text-anchor="start" dominant-baseline="central" style="font-size:9.5px" fill="#111" stroke="#111">Lm1373</text>
<text x="360.72" y="475.63" transform="rotate(66.65 360.72 475.63)" text-anchor="start" dominant-baseline="central" style="font-size:7.85px" fill="#EBA035" stroke="#EBA035" stroke-width="0.18">CC121</text>
<text x="370.43" y="498.12" transform="rotate(66.65 370.43 498.12)" text-anchor="start" dominant-baseline="central" style="font-size:7.85px" fill="#111" stroke="#111">ST-121</text>
<text x="330.98" y="423.73" transform="rotate(69.02 330.98 423.73)" text-anchor="start" dominant-baseline="central" style="font-size:9.5px" fill="#111" stroke="#111">Lm1519</text>
<text x="352.21" y="479.10" transform="rotate(69.02 352.21 479.10)" text-anchor="start" dominant-baseline="central" style="font-size:7.85px" fill="#EBA035" stroke="#EBA035" stroke-width="0.18">CC121</text>
<text x="360.98" y="501.97" transform="rotate(69.02 360.98 501.97)" text-anchor="start" dominant-baseline="central" style="font-size:7.85px" fill="#111" stroke="#111">ST-121</text>
<text x="324.64" y="426.01" transform="rotate(71.40 324.64 426.01)" text-anchor="start" dominant-baseline="central" style="font-size:9.5px" fill="#111" stroke="#111">Lm1313</text>
<text x="343.56" y="482.21" transform="rotate(71.40 343.56 482.21)" text-anchor="start" dominant-baseline="central" style="font-size:7.85px" fill="#EBA035" stroke="#EBA035" stroke-width="0.18">CC121</text>
<text x="351.38" y="505.43" transform="rotate(71.40 351.38 505.43)" text-anchor="start" dominant-baseline="central" style="font-size:7.85px" fill="#111" stroke="#111">ST-121</text>
<text x="318.22" y="428.02" transform="rotate(73.77 318.22 428.02)" text-anchor="start" dominant-baseline="central" style="font-size:9.5px" fill="#111" stroke="#111">Lm1123</text>
<text x="334.79" y="484.96" transform="rotate(73.77 334.79 484.96)" text-anchor="start" dominant-baseline="central" style="font-size:7.85px" fill="#EBA035" stroke="#EBA035" stroke-width="0.18">CC121</text>
<text x="341.64" y="508.48" transform="rotate(73.77 341.64 508.48)" text-anchor="start" dominant-baseline="central" style="font-size:7.85px" fill="#111" stroke="#111">ST-121</text>
<text x="311.72" y="429.77" transform="rotate(76.14 311.72 429.77)" text-anchor="start" dominant-baseline="central" style="font-size:9.5px" fill="#111" stroke="#111">Lm2256</text>
<text x="325.92" y="487.35" transform="rotate(76.14 325.92 487.35)" text-anchor="start" dominant-baseline="central" style="font-size:7.85px" fill="#EBA035" stroke="#EBA035" stroke-width="0.18">CC121</text>
<text x="331.78" y="511.13" transform="rotate(76.14 331.78 511.13)" text-anchor="start" dominant-baseline="central" style="font-size:7.85px" fill="#111" stroke="#111">ST-121</text>
<text x="305.15" y="431.25" transform="rotate(78.52 305.15 431.25)" text-anchor="start" dominant-baseline="central" style="font-size:9.5px" fill="#111" stroke="#111">Lm974</text>
<text x="316.95" y="489.36" transform="rotate(78.52 316.95 489.36)" text-anchor="start" dominant-baseline="central" style="font-size:7.85px" fill="#EBA035" stroke="#EBA035" stroke-width="0.18">CC121</text>
<text x="321.83" y="513.37" transform="rotate(78.52 321.83 513.37)" text-anchor="start" dominant-baseline="central" style="font-size:7.85px" fill="#111" stroke="#111">ST-121</text>
<text x="298.52" y="432.45" transform="rotate(80.89 298.52 432.45)" text-anchor="start" dominant-baseline="central" style="font-size:9.5px" fill="#111" stroke="#111">Lm1403</text>
<text x="307.91" y="491.00" transform="rotate(80.89 307.91 491.00)" text-anchor="start" dominant-baseline="central" style="font-size:7.85px" fill="#EBA035" stroke="#EBA035" stroke-width="0.18">CC121</text>
<text x="311.79" y="515.19" transform="rotate(80.89 311.79 515.19)" text-anchor="start" dominant-baseline="central" style="font-size:7.85px" fill="#111" stroke="#111">ST-121</text>
<text x="291.85" y="433.38" transform="rotate(83.27 291.85 433.38)" text-anchor="start" dominant-baseline="central" style="font-size:9.5px" fill="#FF00FF" stroke="#FF00FF">Lm6179</text>
<text x="298.81" y="492.27" transform="rotate(83.27 298.81 492.27)" text-anchor="start" dominant-baseline="central" style="font-size:7.85px" fill="#EBA035" stroke="#EBA035" stroke-width="0.18">CC121</text>
<text x="301.68" y="516.60" transform="rotate(83.27 301.68 516.60)" text-anchor="start" dominant-baseline="central" style="font-size:7.85px" fill="#111" stroke="#111">ST-121</text>
<text x="285.15" y="434.03" transform="rotate(85.64 285.15 434.03)" text-anchor="start" dominant-baseline="central" style="font-size:9.5px" fill="#111" stroke="#111">LmMQ140035</text>
<text x="289.66" y="493.16" transform="rotate(85.64 289.66 493.16)" text-anchor="start" dominant-baseline="central" style="font-size:7.85px" fill="#EBA035" stroke="#EBA035" stroke-width="0.18">CC121</text>
<text x="291.52" y="517.59" transform="rotate(85.64 291.52 517.59)" text-anchor="start" dominant-baseline="central" style="font-size:7.85px" fill="#111" stroke="#111">ST-1349</text>
<text x="278.43" y="434.40" transform="rotate(88.01 278.43 434.40)" text-anchor="start" dominant-baseline="central" style="font-size:9.5px" fill="#111" stroke="#111">LmMQ140034</text>
<text x="280.49" y="493.67" transform="rotate(88.01 280.49 493.67)" text-anchor="start" dominant-baseline="central" style="font-size:7.85px" fill="#EBA035" stroke="#EBA035" stroke-width="0.18">CC121</text>
<text x="281.34" y="518.15" transform="rotate(88.01 281.34 518.15)" text-anchor="start" dominant-baseline="central" style="font-size:7.85px" fill="#111" stroke="#111">ST-1349</text>
<text x="271.70" y="434.50" transform="rotate(90.39 271.70 434.50)" text-anchor="start" dominant-baseline="central" style="font-size:9.5px" fill="#111" stroke="#111">Lm1513</text>
<text x="271.30" y="493.79" transform="rotate(90.39 271.30 493.79)" text-anchor="start" dominant-baseline="central" style="font-size:7.85px" fill="#EBA035" stroke="#EBA035" stroke-width="0.18">CC121</text>
<text x="271.13" y="518.29" transform="rotate(90.39 271.13 518.29)" text-anchor="start" dominant-baseline="central" style="font-size:7.85px" fill="#111" stroke="#111">ST-121</text>
<text x="264.97" y="434.31" transform="rotate(-87.24 264.97 434.31)" text-anchor="end" dominant-baseline="central" style="font-size:9.5px" fill="#111" stroke="#111">Lm1379</text>
<text x="262.11" y="493.54" transform="rotate(-87.24 262.11 493.54)" text-anchor="end" dominant-baseline="central" style="font-size:7.85px" fill="#EBA035" stroke="#EBA035" stroke-width="0.18">CC14</text>
<text x="260.93" y="518.01" transform="rotate(-87.24 260.93 518.01)" text-anchor="end" dominant-baseline="central" style="font-size:7.85px" fill="#111" stroke="#111">ST-14</text>
<text x="258.25" y="433.85" transform="rotate(-84.86 258.25 433.85)" text-anchor="end" dominant-baseline="central" style="font-size:9.5px" fill="#111" stroke="#111">LmMQ140012</text>
<text x="252.94" y="492.91" transform="rotate(-84.86 252.94 492.91)" text-anchor="end" dominant-baseline="central" style="font-size:7.85px" fill="#F5906E" stroke="#F5906E" stroke-width="0.18">CC101</text>
<text x="250.75" y="517.31" transform="rotate(-84.86 250.75 517.31)" text-anchor="end" dominant-baseline="central" style="font-size:7.85px" fill="#111" stroke="#111">ST-101</text>
<text x="251.56" y="433.11" transform="rotate(-82.49 251.56 433.11)" text-anchor="end" dominant-baseline="central" style="font-size:9.5px" fill="#111" stroke="#111">LmMQ140011</text>
<text x="243.81" y="491.90" transform="rotate(-82.49 243.81 491.90)" text-anchor="end" dominant-baseline="central" style="font-size:7.85px" fill="#F5906E" stroke="#F5906E" stroke-width="0.18">CC101</text>
<text x="240.61" y="516.19" transform="rotate(-82.49 240.61 516.19)" text-anchor="end" dominant-baseline="central" style="font-size:7.85px" fill="#111" stroke="#111">ST-101</text>
<text x="244.91" y="432.09" transform="rotate(-80.12 244.91 432.09)" text-anchor="end" dominant-baseline="central" style="font-size:9.5px" fill="#111" stroke="#111">LmMQ150008</text>
<text x="234.73" y="490.51" transform="rotate(-80.12 234.73 490.51)" text-anchor="end" dominant-baseline="central" style="font-size:7.85px" fill="#F5906E" stroke="#F5906E" stroke-width="0.18">CC101</text>
<text x="230.52" y="514.64" transform="rotate(-80.12 230.52 514.64)" text-anchor="end" dominant-baseline="central" style="font-size:7.85px" fill="#111" stroke="#111">ST-431</text>
<text x="238.30" y="430.80" transform="rotate(-77.74 238.30 430.80)" text-anchor="end" dominant-baseline="central" style="font-size:9.5px" fill="#111" stroke="#111">LmMQ150007</text>
<text x="225.71" y="488.74" transform="rotate(-77.74 225.71 488.74)" text-anchor="end" dominant-baseline="central" style="font-size:7.85px" fill="#F5906E" stroke="#F5906E" stroke-width="0.18">CC101</text>
<text x="220.51" y="512.68" transform="rotate(-77.74 220.51 512.68)" text-anchor="end" dominant-baseline="central" style="font-size:7.85px" fill="#111" stroke="#111">ST-431</text>
<text x="231.75" y="429.23" transform="rotate(-75.37 231.75 429.23)" text-anchor="end" dominant-baseline="central" style="font-size:9.5px" fill="#111" stroke="#111">Lm1321</text>
<text x="216.77" y="486.61" transform="rotate(-75.37 216.77 486.61)" text-anchor="end" dominant-baseline="central" style="font-size:7.85px" fill="#F5906E" stroke="#F5906E" stroke-width="0.18">CC101</text>
<text x="210.58" y="510.31" transform="rotate(-75.37 210.58 510.31)" text-anchor="end" dominant-baseline="central" style="font-size:7.85px" fill="#111" stroke="#111">ST-431</text>
<text x="225.27" y="427.39" transform="rotate(-72.99 225.27 427.39)" text-anchor="end" dominant-baseline="central" style="font-size:9.5px" fill="#111" stroke="#111">LmMQ140032</text>
<text x="207.93" y="484.10" transform="rotate(-72.99 207.93 484.10)" text-anchor="end" dominant-baseline="central" style="font-size:7.85px" fill="#FF5FD0" stroke="#FF5FD0" stroke-width="0.18">CC90</text>
<text x="200.76" y="507.53" transform="rotate(-72.99 200.76 507.53)" text-anchor="end" dominant-baseline="central" style="font-size:7.85px" fill="#111" stroke="#111">ST-425</text>
<text x="218.88" y="425.29" transform="rotate(-70.62 218.88 425.29)" text-anchor="end" dominant-baseline="central" style="font-size:9.5px" fill="#111" stroke="#111">Lm3448</text>
<text x="199.20" y="481.23" transform="rotate(-70.62 199.20 481.23)" text-anchor="end" dominant-baseline="central" style="font-size:7.85px" fill="#C2C23A" stroke="#C2C23A" stroke-width="0.18">CC18</text>
<text x="191.07" y="504.34" transform="rotate(-70.62 191.07 504.34)" text-anchor="end" dominant-baseline="central" style="font-size:7.85px" fill="#111" stroke="#111">ST-18</text>
<text x="212.57" y="422.93" transform="rotate(-68.25 212.57 422.93)" text-anchor="end" dominant-baseline="central" style="font-size:9.5px" fill="#111" stroke="#111">Lm3443</text>
<text x="190.60" y="478.00" transform="rotate(-68.25 190.60 478.00)" text-anchor="end" dominant-baseline="central" style="font-size:7.85px" fill="#C2C23A" stroke="#C2C23A" stroke-width="0.18">CC18</text>
<text x="181.52" y="500.76" transform="rotate(-68.25 181.52 500.76)" text-anchor="end" dominant-baseline="central" style="font-size:7.85px" fill="#111" stroke="#111">ST-18</text>
<text x="206.37" y="420.30" transform="rotate(-65.87 206.37 420.30)" text-anchor="end" dominant-baseline="central" style="font-size:9.5px" fill="#111" stroke="#111">LmMQ130037</text>
<text x="182.13" y="474.42" transform="rotate(-65.87 182.13 474.42)" text-anchor="end" dominant-baseline="central" style="font-size:7.85px" fill="#C2C23A" stroke="#C2C23A" stroke-width="0.18">CC18</text>
<text x="172.12" y="496.78" transform="rotate(-65.87 172.12 496.78)" text-anchor="end" dominant-baseline="central" style="font-size:7.85px" fill="#111" stroke="#111">ST-18</text>
<text x="200.29" y="417.42" transform="rotate(-63.50 200.29 417.42)" text-anchor="end" dominant-baseline="central" style="font-size:9.5px" fill="#111" stroke="#111">Lm1515</text>
<text x="173.83" y="470.49" transform="rotate(-63.50 173.83 470.49)" text-anchor="end" dominant-baseline="central" style="font-size:7.85px" fill="#C2C23A" stroke="#C2C23A" stroke-width="0.18">CC18</text>
<text x="162.89" y="492.42" transform="rotate(-63.50 162.89 492.42)" text-anchor="end" dominant-baseline="central" style="font-size:7.85px" fill="#111" stroke="#111">ST-18</text>
<text x="194.33" y="414.30" transform="rotate(-61.12 194.33 414.30)" text-anchor="end" dominant-baseline="central" style="font-size:9.5px" fill="#111" stroke="#111">Lm1203</text>
<text x="165.69" y="466.22" transform="rotate(-61.12 165.69 466.22)" text-anchor="end" dominant-baseline="central" style="font-size:7.85px" fill="#C2C23A" stroke="#C2C23A" stroke-width="0.18">CC18</text>
<text x="153.86" y="487.68" transform="rotate(-61.12 153.86 487.68)" text-anchor="end" dominant-baseline="central" style="font-size:7.85px" fill="#111" stroke="#111">ST-18</text>
<text x="188.50" y="410.92" transform="rotate(-58.75 188.50 410.92)" text-anchor="end" dominant-baseline="central" style="font-size:9.5px" fill="#111" stroke="#111">Lm1798</text>
<text x="157.74" y="461.62" transform="rotate(-58.75 157.74 461.62)" text-anchor="end" dominant-baseline="central" style="font-size:7.85px" fill="#C2C23A" stroke="#C2C23A" stroke-width="0.18">CC18</text>
<text x="145.03" y="482.56" transform="rotate(-58.75 145.03 482.56)" text-anchor="end" dominant-baseline="central" style="font-size:7.85px" fill="#111" stroke="#111">ST-18</text>
<text x="182.82" y="407.31" transform="rotate(-56.38 182.82 407.31)" text-anchor="end" dominant-baseline="central" style="font-size:9.5px" fill="#FF00FF" stroke="#FF00FF">LmEGD-e</text>
<text x="149.98" y="456.69" transform="rotate(-56.38 149.98 456.69)" text-anchor="end" dominant-baseline="central" style="font-size:7.85px" fill="#FF80CF" stroke="#FF80CF" stroke-width="0.18">CC9</text>
<text x="136.41" y="477.09" transform="rotate(-56.38 136.41 477.09)" text-anchor="end" dominant-baseline="central" style="font-size:7.85px" fill="#111" stroke="#111">ST-35</text>
<text x="177.29" y="403.47" transform="rotate(-54.00 177.29 403.47)" text-anchor="end" dominant-baseline="central" style="font-size:9.5px" fill="#111" stroke="#111">Lm1370</text>
<text x="142.44" y="451.44" transform="rotate(-54.00 142.44 451.44)" text-anchor="end" dominant-baseline="central" style="font-size:7.85px" fill="#FF80CF" stroke="#FF80CF" stroke-width="0.18">CC9</text>
<text x="128.04" y="471.27" transform="rotate(-54.00 128.04 471.27)" text-anchor="end" dominant-baseline="central" style="font-size:7.85px" fill="#111" stroke="#111">ST-9</text>
<text x="171.93" y="399.40" transform="rotate(-51.63 171.93 399.40)" text-anchor="end" dominant-baseline="central" style="font-size:9.5px" fill="#111" stroke="#111">Lm1679</text>
<text x="135.11" y="445.89" transform="rotate(-51.63 135.11 445.89)" text-anchor="end" dominant-baseline="central" style="font-size:7.85px" fill="#7CD63C" stroke="#7CD63C" stroke-width="0.18">CC204</text>
<text x="119.91" y="465.10" transform="rotate(-51.63 119.91 465.10)" text-anchor="end" dominant-baseline="central" style="font-size:7.85px" fill="#111" stroke="#111">ST-204</text>
<text x="166.74" y="395.11" transform="rotate(-49.25 166.74 395.11)" text-anchor="end" dominant-baseline="central" style="font-size:9.5px" fill="#111" stroke="#111">Lm1309</text>
<text x="128.03" y="440.04" transform="rotate(-49.25 128.03 440.04)" text-anchor="end" dominant-baseline="central" style="font-size:7.85px" fill="#7CD63C" stroke="#7CD63C" stroke-width="0.18">CC204</text>
<text x="112.04" y="458.60" transform="rotate(-49.25 112.04 458.60)" text-anchor="end" dominant-baseline="central" style="font-size:7.85px" fill="#111" stroke="#111">ST-204</text>
<text x="161.73" y="390.61" transform="rotate(-46.88 161.73 390.61)" text-anchor="end" dominant-baseline="central" style="font-size:9.5px" fill="#111" stroke="#111">LmMQ150011</text>
<text x="121.19" y="433.90" transform="rotate(-46.88 121.19 433.90)" text-anchor="end" dominant-baseline="central" style="font-size:7.85px" fill="#A5CE3C" stroke="#A5CE3C" stroke-width="0.18">CC20</text>
<text x="104.45" y="451.78" transform="rotate(-46.88 104.45 451.78)" text-anchor="end" dominant-baseline="central" style="font-size:7.85px" fill="#111" stroke="#111">ST-20</text>
<text x="156.91" y="385.91" transform="rotate(-44.51 156.91 385.91)" text-anchor="end" dominant-baseline="central" style="font-size:9.5px" fill="#111" stroke="#111">Lm976</text>
<text x="114.62" y="427.48" transform="rotate(-44.51 114.62 427.48)" text-anchor="end" dominant-baseline="central" style="font-size:7.85px" fill="#A5CE3C" stroke="#A5CE3C" stroke-width="0.18">CC20</text>
<text x="97.14" y="444.65" transform="rotate(-44.51 97.14 444.65)" text-anchor="end" dominant-baseline="central" style="font-size:7.85px" fill="#111" stroke="#111">ST-20</text>
<text x="152.29" y="381.01" transform="rotate(-42.13 152.29 381.01)" text-anchor="end" dominant-baseline="central" style="font-size:9.5px" fill="#111" stroke="#111">Lm2185</text>
<text x="108.31" y="420.79" transform="rotate(-42.13 108.31 420.79)" text-anchor="end" dominant-baseline="central" style="font-size:7.85px" fill="#EBA035" stroke="#EBA035" stroke-width="0.18">CC14</text>
<text x="90.14" y="437.23" transform="rotate(-42.13 90.14 437.23)" text-anchor="end" dominant-baseline="central" style="font-size:7.85px" fill="#111" stroke="#111">ST-91</text>
<text x="147.88" y="375.93" transform="rotate(-39.76 147.88 375.93)" text-anchor="end" dominant-baseline="central" style="font-size:9.5px" fill="#111" stroke="#111">Lm2075</text>
<text x="102.29" y="413.85" transform="rotate(-39.76 102.29 413.85)" text-anchor="end" dominant-baseline="central" style="font-size:7.85px" fill="#EBA035" stroke="#EBA035" stroke-width="0.18">CC14</text>
<text x="83.46" y="429.52" transform="rotate(-39.76 83.46 429.52)" text-anchor="end" dominant-baseline="central" style="font-size:7.85px" fill="#111" stroke="#111">ST-91</text>
<text x="143.68" y="370.66" transform="rotate(-37.38 143.68 370.66)" text-anchor="end" dominant-baseline="central" style="font-size:9.5px" fill="#111" stroke="#111">Lm1976</text>
<text x="96.56" y="406.67" transform="rotate(-37.38 96.56 406.67)" text-anchor="end" dominant-baseline="central" style="font-size:7.85px" fill="#F060F0" stroke="#F060F0" stroke-width="0.18">CC8</text>
<text x="77.09" y="421.54" transform="rotate(-37.38 77.09 421.54)" text-anchor="end" dominant-baseline="central" style="font-size:7.85px" fill="#111" stroke="#111">ST-8</text>
<text x="139.70" y="365.23" transform="rotate(-35.01 139.70 365.23)" text-anchor="end" dominant-baseline="central" style="font-size:9.5px" fill="#111" stroke="#111">Lm1880</text>
<text x="91.13" y="399.25" transform="rotate(-35.01 91.13 399.25)" text-anchor="end" dominant-baseline="central" style="font-size:7.85px" fill="#F060F0" stroke="#F060F0" stroke-width="0.18">CC8</text>
<text x="71.07" y="413.31" transform="rotate(-35.01 71.07 413.31)" text-anchor="end" dominant-baseline="central" style="font-size:7.85px" fill="#111" stroke="#111">ST-8</text>
<text x="135.96" y="359.64" transform="rotate(-32.64 135.96 359.64)" text-anchor="end" dominant-baseline="central" style="font-size:9.5px" fill="#111" stroke="#111">Lm2294</text>
<text x="86.02" y="391.62" transform="rotate(-32.64 86.02 391.62)" text-anchor="end" dominant-baseline="central" style="font-size:7.85px" fill="#F060F0" stroke="#F060F0" stroke-width="0.18">CC8</text>
<text x="65.39" y="404.83" transform="rotate(-32.64 65.39 404.83)" text-anchor="end" dominant-baseline="central" style="font-size:7.85px" fill="#111" stroke="#111">ST-8</text>
<text x="132.44" y="353.89" transform="rotate(-30.26 132.44 353.89)" text-anchor="end" dominant-baseline="central" style="font-size:9.5px" fill="#111" stroke="#111">Lm1427</text>
<text x="81.22" y="383.78" transform="rotate(-30.26 81.22 383.78)" text-anchor="end" dominant-baseline="central" style="font-size:7.85px" fill="#FF7090" stroke="#FF7090" stroke-width="0.18">NOVEL</text>
<text x="60.06" y="396.12" transform="rotate(-30.26 60.06 396.12)" text-anchor="end" dominant-baseline="central" style="font-size:7.85px" fill="#111" stroke="#111">ST-836*</text>
<text x="129.17" y="348.01" transform="rotate(-27.89 129.17 348.01)" text-anchor="end" dominant-baseline="central" style="font-size:9.5px" fill="#111" stroke="#111">Lm1306</text>
<text x="76.76" y="375.75" transform="rotate(-27.89 76.76 375.75)" text-anchor="end" dominant-baseline="central" style="font-size:7.85px" fill="#FF7090" stroke="#FF7090" stroke-width="0.18">NOVEL</text>
<text x="55.10" y="387.21" transform="rotate(-27.89 55.10 387.21)" text-anchor="end" dominant-baseline="central" style="font-size:7.85px" fill="#111" stroke="#111">ST-836</text>
<text x="126.15" y="341.99" transform="rotate(-25.51 126.15 341.99)" text-anchor="end" dominant-baseline="central" style="font-size:9.5px" fill="#111" stroke="#111">Lm1428</text>
<text x="72.63" y="367.54" transform="rotate(-25.51 72.63 367.54)" text-anchor="end" dominant-baseline="central" style="font-size:7.85px" fill="#FF7090" stroke="#FF7090" stroke-width="0.18">NOVEL</text>
<text x="50.52" y="378.09" transform="rotate(-25.51 50.52 378.09)" text-anchor="end" dominant-baseline="central" style="font-size:7.85px" fill="#111" stroke="#111">ST-836*</text>
<text x="123.37" y="335.86" transform="rotate(-23.14 123.37 335.86)" text-anchor="end" dominant-baseline="central" style="font-size:9.5px" fill="#111" stroke="#111">Lm1304</text>
<text x="68.84" y="359.16" transform="rotate(-23.14 68.84 359.16)" text-anchor="end" dominant-baseline="central" style="font-size:7.85px" fill="#FF7090" stroke="#FF7090" stroke-width="0.18">NOVEL</text>
<text x="46.32" y="368.79" transform="rotate(-23.14 46.32 368.79)" text-anchor="end" dominant-baseline="central" style="font-size:7.85px" fill="#111" stroke="#111">ST-836</text>
<text x="120.86" y="329.61" transform="rotate(-20.77 120.86 329.61)" text-anchor="end" dominant-baseline="central" style="font-size:9.5px" fill="#111" stroke="#111">Lm1502</text>
<text x="65.41" y="350.64" transform="rotate(-20.77 65.41 350.64)" text-anchor="end" dominant-baseline="central" style="font-size:7.85px" fill="#FF7090" stroke="#FF7090" stroke-width="0.18">NOVEL</text>
<text x="42.50" y="359.33" transform="rotate(-20.77 42.50 359.33)" text-anchor="end" dominant-baseline="central" style="font-size:7.85px" fill="#111" stroke="#111">ST-836</text>
<text x="118.60" y="323.27" transform="rotate(-18.39 118.60 323.27)" text-anchor="end" dominant-baseline="central" style="font-size:9.5px" fill="#111" stroke="#111">Lm1385</text>
<text x="62.33" y="341.98" transform="rotate(-18.39 62.33 341.98)" text-anchor="end" dominant-baseline="central" style="font-size:7.85px" fill="#D8A830" stroke="#D8A830" stroke-width="0.18">CC155</text>
<text x="39.08" y="349.71" transform="rotate(-18.39 39.08 349.71)" text-anchor="end" dominant-baseline="central" style="font-size:7.85px" fill="#111" stroke="#111">ST-155</text>
<text x="116.61" y="316.84" transform="rotate(-16.02 116.61 316.84)" text-anchor="end" dominant-baseline="central" style="font-size:9.5px" fill="#111" stroke="#111">Lm1527</text>
<text x="59.61" y="333.20" transform="rotate(-16.02 59.61 333.20)" text-anchor="end" dominant-baseline="central" style="font-size:7.85px" fill="#1CCBD0" stroke="#1CCBD0" stroke-width="0.18">CC37</text>
<text x="36.06" y="339.96" transform="rotate(-16.02 36.06 339.96)" text-anchor="end" dominant-baseline="central" style="font-size:7.85px" fill="#111" stroke="#111">ST-37</text>
<text x="114.89" y="310.33" transform="rotate(-13.64 114.89 310.33)" text-anchor="end" dominant-baseline="central" style="font-size:9.5px" fill="#111" stroke="#111">Lm1095</text>
<text x="57.26" y="324.32" transform="rotate(-13.64 57.26 324.32)" text-anchor="end" dominant-baseline="central" style="font-size:7.85px" fill="#1CCBD0" stroke="#1CCBD0" stroke-width="0.18">CC37</text>
<text x="33.45" y="330.10" transform="rotate(-13.64 33.45 330.10)" text-anchor="end" dominant-baseline="central" style="font-size:7.85px" fill="#111" stroke="#111">ST-37</text>
<text x="113.43" y="303.76" transform="rotate(-11.27 113.43 303.76)" text-anchor="end" dominant-baseline="central" style="font-size:9.5px" fill="#111" stroke="#111">LmMQ150001</text>
<text x="55.28" y="315.35" transform="rotate(-11.27 55.28 315.35)" text-anchor="end" dominant-baseline="central" style="font-size:7.85px" fill="#1CCBD0" stroke="#1CCBD0" stroke-width="0.18">CC37</text>
<text x="31.25" y="320.14" transform="rotate(-11.27 31.25 320.14)" text-anchor="end" dominant-baseline="central" style="font-size:7.85px" fill="#111" stroke="#111">ST-37</text>
<text x="112.25" y="297.13" transform="rotate(-8.90 112.25 297.13)" text-anchor="end" dominant-baseline="central" style="font-size:9.5px" fill="#111" stroke="#111">Lm1513C</text>
<text x="53.67" y="306.30" transform="rotate(-8.90 53.67 306.30)" text-anchor="end" dominant-baseline="central" style="font-size:7.85px" fill="#FF7090" stroke="#FF7090" stroke-width="0.18">NOVEL</text>
<text x="29.46" y="310.09" transform="rotate(-8.90 29.46 310.09)" text-anchor="end" dominant-baseline="central" style="font-size:7.85px" fill="#111" stroke="#111">ST-787</text>
<text x="111.35" y="290.46" transform="rotate(-6.52 111.35 290.46)" text-anchor="end" dominant-baseline="central" style="font-size:9.5px" fill="#111" stroke="#111">Lm1507</text>
<text x="52.44" y="297.19" transform="rotate(-6.52 52.44 297.19)" text-anchor="end" dominant-baseline="central" style="font-size:7.85px" fill="#FF7090" stroke="#FF7090" stroke-width="0.18">NOVEL</text>
<text x="28.09" y="299.98" transform="rotate(-6.52 28.09 299.98)" text-anchor="end" dominant-baseline="central" style="font-size:7.85px" fill="#111" stroke="#111">ST-787</text>
<text x="110.73" y="283.75" transform="rotate(-4.15 110.73 283.75)" text-anchor="end" dominant-baseline="central" style="font-size:9.5px" fill="#111" stroke="#111">Lm1383</text>
<text x="51.58" y="288.04" transform="rotate(-4.15 51.58 288.04)" text-anchor="end" dominant-baseline="central" style="font-size:7.85px" fill="#2C9CEE" stroke="#2C9CEE" stroke-width="0.18">CC412</text>
<text x="27.15" y="289.82" transform="rotate(-4.15 27.15 289.82)" text-anchor="end" dominant-baseline="central" style="font-size:7.85px" fill="#111" stroke="#111">ST-620</text>
<text x="110.38" y="277.03" transform="rotate(-1.77 110.38 277.03)" text-anchor="end" dominant-baseline="central" style="font-size:9.5px" fill="#111" stroke="#111">Lm1394</text>
<text x="51.11" y="278.87" transform="rotate(-1.77 51.11 278.87)" text-anchor="end" dominant-baseline="central" style="font-size:7.85px" fill="#1CCB9A" stroke="#1CCB9A" stroke-width="0.18">CC26</text>
<text x="26.62" y="279.62" transform="rotate(-1.77 26.62 279.62)" text-anchor="end" dominant-baseline="central" style="font-size:7.85px" fill="#111" stroke="#111">ST-26</text>
<text x="110.31" y="270.30" transform="rotate(0.60 110.31 270.30)" text-anchor="end" dominant-baseline="central" style="font-size:9.5px" fill="#111" stroke="#111">LmMQ140029</text>
<text x="51.01" y="269.68" transform="rotate(0.60 51.01 269.68)" text-anchor="end" dominant-baseline="central" style="font-size:7.85px" fill="#D080F0" stroke="#D080F0" stroke-width="0.18">CC7</text>
<text x="26.51" y="269.42" transform="rotate(0.60 26.51 269.42)" text-anchor="end" dominant-baseline="central" style="font-size:7.85px" fill="#111" stroke="#111">ST-7</text>
<text x="110.52" y="263.57" transform="rotate(2.97 110.52 263.57)" text-anchor="end" dominant-baseline="central" style="font-size:9.5px" fill="#111" stroke="#111">Lm1445</text>
<text x="51.30" y="260.49" transform="rotate(2.97 51.30 260.49)" text-anchor="end" dominant-baseline="central" style="font-size:7.85px" fill="#D080F0" stroke="#D080F0" stroke-width="0.18">CC7</text>
<text x="26.83" y="259.22" transform="rotate(2.97 26.83 259.22)" text-anchor="end" dominant-baseline="central" style="font-size:7.85px" fill="#111" stroke="#111">ST-7</text>
<text x="111.01" y="256.85" transform="rotate(5.35 111.01 256.85)" text-anchor="end" dominant-baseline="central" style="font-size:9.5px" fill="#FF00FF" stroke="#FF00FF">Lm10403S</text>
<text x="51.97" y="251.33" transform="rotate(5.35 51.97 251.33)" text-anchor="end" dominant-baseline="central" style="font-size:7.85px" fill="#D080F0" stroke="#D080F0" stroke-width="0.18">CC7</text>
<text x="27.57" y="249.04" transform="rotate(5.35 27.57 249.04)" text-anchor="end" dominant-baseline="central" style="font-size:7.85px" fill="#111" stroke="#111">ST-85</text>
<text x="111.77" y="250.17" transform="rotate(7.72 111.77 250.17)" text-anchor="end" dominant-baseline="central" style="font-size:9.5px" fill="#111" stroke="#111">Lm1389</text>
<text x="53.01" y="242.20" transform="rotate(7.72 53.01 242.20)" text-anchor="end" dominant-baseline="central" style="font-size:7.85px" fill="#1CCBAA" stroke="#1CCBAA" stroke-width="0.18">CC31</text>
<text x="28.73" y="238.91" transform="rotate(7.72 28.73 238.91)" text-anchor="end" dominant-baseline="central" style="font-size:7.85px" fill="#111" stroke="#111">ST-31</text>
<text x="112.82" y="243.51" transform="rotate(10.10 112.82 243.51)" text-anchor="end" dominant-baseline="central" style="font-size:9.5px" fill="#111" stroke="#111">Lm1371</text>
<text x="54.43" y="233.12" transform="rotate(10.10 54.43 233.12)" text-anchor="end" dominant-baseline="central" style="font-size:7.85px" fill="#1CCBAA" stroke="#1CCBAA" stroke-width="0.18">CC31</text>
<text x="30.31" y="228.82" transform="rotate(10.10 30.31 228.82)" text-anchor="end" dominant-baseline="central" style="font-size:7.85px" fill="#111" stroke="#111">ST-31</text>
<text x="114.13" y="236.91" transform="rotate(12.47 114.13 236.91)" text-anchor="end" dominant-baseline="central" style="font-size:9.5px" fill="#111" stroke="#111">LmMQ140031</text>
<text x="56.23" y="224.11" transform="rotate(12.47 56.23 224.11)" text-anchor="end" dominant-baseline="central" style="font-size:7.85px" fill="#FF7676" stroke="#FF7676" stroke-width="0.18">CC1</text>
<text x="32.31" y="218.82" transform="rotate(12.47 32.31 218.82)" text-anchor="end" dominant-baseline="central" style="font-size:7.85px" fill="#111" stroke="#111">ST-1</text>
<text x="115.72" y="230.37" transform="rotate(14.84 115.72 230.37)" text-anchor="end" dominant-baseline="central" style="font-size:9.5px" fill="#111" stroke="#111">LmMQ130029</text>
<text x="58.40" y="215.18" transform="rotate(14.84 58.40 215.18)" text-anchor="end" dominant-baseline="central" style="font-size:7.85px" fill="#FF7676" stroke="#FF7676" stroke-width="0.18">CC1</text>
<text x="34.72" y="208.90" transform="rotate(14.84 34.72 208.90)" text-anchor="end" dominant-baseline="central" style="font-size:7.85px" fill="#111" stroke="#111">ST-1</text>
<text x="117.58" y="223.90" transform="rotate(17.22 117.58 223.90)" text-anchor="end" dominant-baseline="central" style="font-size:9.5px" fill="#111" stroke="#111">LmMQ130032</text>
<text x="60.94" y="206.35" transform="rotate(17.22 60.94 206.35)" text-anchor="end" dominant-baseline="central" style="font-size:7.85px" fill="#FF7676" stroke="#FF7676" stroke-width="0.18">CC1</text>
<text x="37.54" y="199.09" transform="rotate(17.22 37.54 199.09)" text-anchor="end" dominant-baseline="central" style="font-size:7.85px" fill="#111" stroke="#111">ST-1</text>
<text x="119.71" y="217.51" transform="rotate(19.59 119.71 217.51)" text-anchor="end" dominant-baseline="central" style="font-size:9.5px" fill="#111" stroke="#111">LmMQ130026</text>
<text x="63.84" y="197.63" transform="rotate(19.59 63.84 197.63)" text-anchor="end" dominant-baseline="central" style="font-size:7.85px" fill="#FF7676" stroke="#FF7676" stroke-width="0.18">CC1</text>
<text x="40.76" y="189.41" transform="rotate(19.59 40.76 189.41)" text-anchor="end" dominant-baseline="central" style="font-size:7.85px" fill="#111" stroke="#111">ST-1</text>
<text x="122.10" y="211.22" transform="rotate(21.97 122.10 211.22)" text-anchor="end" dominant-baseline="central" style="font-size:9.5px" fill="#111" stroke="#111">LmMQ140033</text>
<text x="67.10" y="189.03" transform="rotate(21.97 67.10 189.03)" text-anchor="end" dominant-baseline="central" style="font-size:7.85px" fill="#FF7676" stroke="#FF7676" stroke-width="0.18">CC1</text>
<text x="44.38" y="179.87" transform="rotate(21.97 44.38 179.87)" text-anchor="end" dominant-baseline="central" style="font-size:7.85px" fill="#111" stroke="#111">ST-1</text>
<text x="124.74" y="205.03" transform="rotate(24.34 124.74 205.03)" text-anchor="end" dominant-baseline="central" style="font-size:9.5px" fill="#111" stroke="#111">Lm2111</text>
<text x="70.71" y="180.59" transform="rotate(24.34 70.71 180.59)" text-anchor="end" dominant-baseline="central" style="font-size:7.85px" fill="#FF7676" stroke="#FF7676" stroke-width="0.18">CC1</text>
<text x="48.39" y="170.49" transform="rotate(24.34 48.39 170.49)" text-anchor="end" dominant-baseline="central" style="font-size:7.85px" fill="#111" stroke="#111">ST-1</text>
<text x="127.64" y="198.95" transform="rotate(26.71 127.64 198.95)" text-anchor="end" dominant-baseline="central" style="font-size:9.5px" fill="#111" stroke="#111">Lm1411</text>
<text x="74.67" y="172.29" transform="rotate(26.71 74.67 172.29)" text-anchor="end" dominant-baseline="central" style="font-size:7.85px" fill="#FF7676" stroke="#FF7676" stroke-width="0.18">CC1</text>
<text x="52.79" y="161.28" transform="rotate(26.71 52.79 161.28)" text-anchor="end" dominant-baseline="central" style="font-size:7.85px" fill="#111" stroke="#111">ST-1</text>
<text x="130.80" y="193.00" transform="rotate(29.09 130.80 193.00)" text-anchor="end" dominant-baseline="central" style="font-size:9.5px" fill="#111" stroke="#111">Lm3444</text>
<text x="78.97" y="164.17" transform="rotate(29.09 78.97 164.17)" text-anchor="end" dominant-baseline="central" style="font-size:7.85px" fill="#FF7676" stroke="#FF7676" stroke-width="0.18">CC1</text>
<text x="57.56" y="152.26" transform="rotate(29.09 57.56 152.26)" text-anchor="end" dominant-baseline="central" style="font-size:7.85px" fill="#111" stroke="#111">ST-1</text>
<text x="134.19" y="187.19" transform="rotate(31.46 134.19 187.19)" text-anchor="end" dominant-baseline="central" style="font-size:9.5px" fill="#111" stroke="#111">LmMQ130042</text>
<text x="83.61" y="156.24" transform="rotate(31.46 83.61 156.24)" text-anchor="end" dominant-baseline="central" style="font-size:7.85px" fill="#FF7676" stroke="#FF7676" stroke-width="0.18">CC1</text>
<text x="62.71" y="143.45" transform="rotate(31.46 62.71 143.45)" text-anchor="end" dominant-baseline="central" style="font-size:7.85px" fill="#111" stroke="#111">ST-1</text>
<text x="137.82" y="181.52" transform="rotate(33.84 137.82 181.52)" text-anchor="end" dominant-baseline="central" style="font-size:9.5px" fill="#FF00FF" stroke="#FF00FF">LmF2365</text>
<text x="88.57" y="148.50" transform="rotate(33.84 88.57 148.50)" text-anchor="end" dominant-baseline="central" style="font-size:7.85px" fill="#FF7676" stroke="#FF7676" stroke-width="0.18">CC1</text>
<text x="68.21" y="134.86" transform="rotate(33.84 68.21 134.86)" text-anchor="end" dominant-baseline="central" style="font-size:7.85px" fill="#111" stroke="#111">ST-1</text>
<text x="141.69" y="176.00" transform="rotate(36.21 141.69 176.00)" text-anchor="end" dominant-baseline="central" style="font-size:9.5px" fill="#111" stroke="#111">LmMQ140025</text>
<text x="93.84" y="140.97" transform="rotate(36.21 93.84 140.97)" text-anchor="end" dominant-baseline="central" style="font-size:7.85px" fill="#FF7676" stroke="#FF7676" stroke-width="0.18">CC1</text>
<text x="74.07" y="126.50" transform="rotate(36.21 74.07 126.50)" text-anchor="end" dominant-baseline="central" style="font-size:7.85px" fill="#111" stroke="#111">ST-1</text>
<text x="145.77" y="170.66" transform="rotate(38.58 145.77 170.66)" text-anchor="end" dominant-baseline="central" style="font-size:9.5px" fill="#111" stroke="#111">Lm2226</text>
<text x="99.42" y="133.67" transform="rotate(38.58 99.42 133.67)" text-anchor="end" dominant-baseline="central" style="font-size:7.85px" fill="#22CC55" stroke="#22CC55" stroke-width="0.18">CC220</text>
<text x="80.27" y="118.39" transform="rotate(38.58 80.27 118.39)" text-anchor="end" dominant-baseline="central" style="font-size:7.85px" fill="#111" stroke="#111">ST-220</text>
<text x="150.08" y="165.48" transform="rotate(40.96 150.08 165.48)" text-anchor="end" dominant-baseline="central" style="font-size:9.5px" fill="#111" stroke="#111">Lm2181</text>
<text x="105.30" y="126.61" transform="rotate(40.96 105.30 126.61)" text-anchor="end" dominant-baseline="central" style="font-size:7.85px" fill="#22CC55" stroke="#22CC55" stroke-width="0.18">CC220</text>
<text x="86.80" y="110.55" transform="rotate(40.96 86.80 110.55)" text-anchor="end" dominant-baseline="central" style="font-size:7.85px" fill="#111" stroke="#111">ST-220</text>
<text x="154.60" y="160.49" transform="rotate(43.33 154.60 160.49)" text-anchor="end" dominant-baseline="central" style="font-size:9.5px" fill="#111" stroke="#111">Lm966</text>
<text x="111.46" y="119.80" transform="rotate(43.33 111.46 119.80)" text-anchor="end" dominant-baseline="central" style="font-size:7.85px" fill="#22CC55" stroke="#22CC55" stroke-width="0.18">CC220</text>
<text x="93.64" y="102.98" transform="rotate(43.33 93.64 102.98)" text-anchor="end" dominant-baseline="central" style="font-size:7.85px" fill="#111" stroke="#111">ST-220</text>
<text x="159.32" y="155.69" transform="rotate(45.71 159.32 155.69)" text-anchor="end" dominant-baseline="central" style="font-size:9.5px" fill="#111" stroke="#111">Lm2507</text>
<text x="117.91" y="113.24" transform="rotate(45.71 117.91 113.24)" text-anchor="end" dominant-baseline="central" style="font-size:7.85px" fill="#22CC55" stroke="#22CC55" stroke-width="0.18">CC220</text>
<text x="100.80" y="95.71" transform="rotate(45.71 100.80 95.71)" text-anchor="end" dominant-baseline="central" style="font-size:7.85px" fill="#111" stroke="#111">ST-220</text>
<text x="164.23" y="151.09" transform="rotate(48.08 164.23 151.09)" text-anchor="end" dominant-baseline="central" style="font-size:9.5px" fill="#111" stroke="#111">LmF1994-15</text>
<text x="124.62" y="106.96" transform="rotate(48.08 124.62 106.96)" text-anchor="end" dominant-baseline="central" style="font-size:7.85px" fill="#22CC55" stroke="#22CC55" stroke-width="0.18">CC220</text>
<text x="108.25" y="88.73" transform="rotate(48.08 108.25 88.73)" text-anchor="end" dominant-baseline="central" style="font-size:7.85px" fill="#111" stroke="#111">ST-220</text>
<text x="169.34" y="146.69" transform="rotate(50.45 169.34 146.69)" text-anchor="end" dominant-baseline="central" style="font-size:9.5px" fill="#111" stroke="#111">Lm2234</text>
<text x="131.58" y="100.97" transform="rotate(50.45 131.58 100.97)" text-anchor="end" dominant-baseline="central" style="font-size:7.85px" fill="#22CC55" stroke="#22CC55" stroke-width="0.18">CC220</text>
<text x="115.98" y="82.07" transform="rotate(50.45 115.98 82.07)" text-anchor="end" dominant-baseline="central" style="font-size:7.85px" fill="#111" stroke="#111">ST-220</text>
<text x="174.62" y="142.52" transform="rotate(52.83 174.62 142.52)" text-anchor="end" dominant-baseline="central" style="font-size:9.5px" fill="#111" stroke="#111">Lm1381</text>
<text x="138.79" y="95.26" transform="rotate(52.83 138.79 95.26)" text-anchor="end" dominant-baseline="central" style="font-size:7.85px" fill="#A8C830" stroke="#A8C830" stroke-width="0.18">CC2</text>
<text x="123.98" y="75.74" transform="rotate(52.83 123.98 75.74)" text-anchor="end" dominant-baseline="central" style="font-size:7.85px" fill="#111" stroke="#111">ST-2</text>
<text x="180.06" y="138.56" transform="rotate(55.20 180.06 138.56)" text-anchor="end" dominant-baseline="central" style="font-size:9.5px" fill="#111" stroke="#111">Lm1380</text>
<text x="146.22" y="89.86" transform="rotate(55.20 146.22 89.86)" text-anchor="end" dominant-baseline="central" style="font-size:7.85px" fill="#A8C830" stroke="#A8C830" stroke-width="0.18">CC2</text>
<text x="132.24" y="69.75" transform="rotate(55.20 132.24 69.75)" text-anchor="end" dominant-baseline="central" style="font-size:7.85px" fill="#111" stroke="#111">ST-2</text>
<text x="185.67" y="134.83" transform="rotate(57.58 185.67 134.83)" text-anchor="end" dominant-baseline="central" style="font-size:9.5px" fill="#111" stroke="#111">Lm1387</text>
<text x="153.88" y="84.78" transform="rotate(57.58 153.88 84.78)" text-anchor="end" dominant-baseline="central" style="font-size:7.85px" fill="#A8C830" stroke="#A8C830" stroke-width="0.18">CC2</text>
<text x="140.74" y="64.10" transform="rotate(57.58 140.74 64.10)" text-anchor="end" dominant-baseline="central" style="font-size:7.85px" fill="#111" stroke="#111">ST-2</text>
<text x="191.43" y="131.34" transform="rotate(59.95 191.43 131.34)" text-anchor="end" dominant-baseline="central" style="font-size:9.5px" fill="#111" stroke="#111">Lm1393</text>
<text x="161.73" y="80.01" transform="rotate(59.95 161.73 80.01)" text-anchor="end" dominant-baseline="central" style="font-size:7.85px" fill="#A8C830" stroke="#A8C830" stroke-width="0.18">CC2</text>
<text x="149.46" y="58.81" transform="rotate(59.95 149.46 58.81)" text-anchor="end" dominant-baseline="central" style="font-size:7.85px" fill="#111" stroke="#111">ST-2</text>
<text x="197.32" y="128.09" transform="rotate(62.32 197.32 128.09)" text-anchor="end" dominant-baseline="central" style="font-size:9.5px" fill="#111" stroke="#111">Lm1376</text>
<text x="169.78" y="75.58" transform="rotate(62.32 169.78 75.58)" text-anchor="end" dominant-baseline="central" style="font-size:7.85px" fill="#A8C830" stroke="#A8C830" stroke-width="0.18">CC2</text>
<text x="158.40" y="53.88" transform="rotate(62.32 158.40 53.88)" text-anchor="end" dominant-baseline="central" style="font-size:7.85px" fill="#111" stroke="#111">ST-2</text>
<text x="203.35" y="125.09" transform="rotate(64.70 203.35 125.09)" text-anchor="end" dominant-baseline="central" style="font-size:9.5px" fill="#111" stroke="#111">Lm1377</text>
<text x="178.01" y="71.48" transform="rotate(64.70 178.01 71.48)" text-anchor="end" dominant-baseline="central" style="font-size:7.85px" fill="#A8C830" stroke="#A8C830" stroke-width="0.18">CC2</text>
<text x="167.53" y="49.33" transform="rotate(64.70 167.53 49.33)" text-anchor="end" dominant-baseline="central" style="font-size:7.85px" fill="#111" stroke="#111">ST-2</text>
<text x="209.49" y="122.34" transform="rotate(67.07 209.49 122.34)" text-anchor="end" dominant-baseline="central" style="font-size:9.5px" fill="#111" stroke="#111">Lm1388</text>
<text x="186.39" y="67.72" transform="rotate(67.07 186.39 67.72)" text-anchor="end" dominant-baseline="central" style="font-size:7.85px" fill="#A8C830" stroke="#A8C830" stroke-width="0.18">CC2</text>
<text x="176.85" y="45.16" transform="rotate(67.07 176.85 45.16)" text-anchor="end" dominant-baseline="central" style="font-size:7.85px" fill="#111" stroke="#111">ST-2</text>
<text x="215.75" y="119.84" transform="rotate(69.45 215.75 119.84)" text-anchor="end" dominant-baseline="central" style="font-size:9.5px" fill="#111" stroke="#111">Lm2183</text>
<text x="194.93" y="64.32" transform="rotate(69.45 194.93 64.32)" text-anchor="end" dominant-baseline="central" style="font-size:7.85px" fill="#A8C830" stroke="#A8C830" stroke-width="0.18">CC2</text>
<text x="186.33" y="41.38" transform="rotate(69.45 186.33 41.38)" text-anchor="end" dominant-baseline="central" style="font-size:7.85px" fill="#111" stroke="#111">ST-2</text>
<text x="222.10" y="117.61" transform="rotate(71.82 222.10 117.61)" text-anchor="end" dominant-baseline="central" style="font-size:9.5px" fill="#111" stroke="#111">Lm1413</text>
<text x="203.60" y="61.27" transform="rotate(71.82 203.60 61.27)" text-anchor="end" dominant-baseline="central" style="font-size:7.85px" fill="#A8C830" stroke="#A8C830" stroke-width="0.18">CC2</text>
<text x="195.95" y="38.00" transform="rotate(71.82 195.95 38.00)" text-anchor="end" dominant-baseline="central" style="font-size:7.85px" fill="#111" stroke="#111">ST-2</text>
<text x="228.54" y="115.64" transform="rotate(74.19 228.54 115.64)" text-anchor="end" dominant-baseline="central" style="font-size:9.5px" fill="#111" stroke="#111">Lm2337</text>
<text x="212.39" y="58.59" transform="rotate(74.19 212.39 58.59)" text-anchor="end" dominant-baseline="central" style="font-size:7.85px" fill="#A8C830" stroke="#A8C830" stroke-width="0.18">CC2</text>
<text x="205.71" y="35.01" transform="rotate(74.19 205.71 35.01)" text-anchor="end" dominant-baseline="central" style="font-size:7.85px" fill="#111" stroke="#111">ST-2</text>
<text x="235.05" y="113.94" transform="rotate(76.57 235.05 113.94)" text-anchor="end" dominant-baseline="central" style="font-size:9.5px" fill="#111" stroke="#111">Lm1564</text>
<text x="221.28" y="56.27" transform="rotate(76.57 221.28 56.27)" text-anchor="end" dominant-baseline="central" style="font-size:7.85px" fill="#A8C830" stroke="#A8C830" stroke-width="0.18">CC2</text>
<text x="215.59" y="32.44" transform="rotate(76.57 215.59 32.44)" text-anchor="end" dominant-baseline="central" style="font-size:7.85px" fill="#111" stroke="#111">ST-2</text>
<text x="241.63" y="112.52" transform="rotate(78.94 241.63 112.52)" text-anchor="end" dominant-baseline="central" style="font-size:9.5px" fill="#111" stroke="#111">LmMQ150012</text>
<text x="230.26" y="54.32" transform="rotate(78.94 230.26 54.32)" text-anchor="end" dominant-baseline="central" style="font-size:7.85px" fill="#A8C830" stroke="#A8C830" stroke-width="0.18">CC2</text>
<text x="225.56" y="30.27" transform="rotate(78.94 225.56 30.27)" text-anchor="end" dominant-baseline="central" style="font-size:7.85px" fill="#111" stroke="#111">ST-2</text>
<text x="248.26" y="111.36" transform="rotate(81.32 248.26 111.36)" text-anchor="end" dominant-baseline="central" style="font-size:9.5px" fill="#111" stroke="#111">LmMQ150013</text>
<text x="239.31" y="52.74" transform="rotate(81.32 239.31 52.74)" text-anchor="end" dominant-baseline="central" style="font-size:7.85px" fill="#D080F0" stroke="#D080F0" stroke-width="0.18">CC6</text>
<text x="235.61" y="28.52" transform="rotate(81.32 235.61 28.52)" text-anchor="end" dominant-baseline="central" style="font-size:7.85px" fill="#111" stroke="#111">ST-6</text>
<text x="254.94" y="110.48" transform="rotate(83.69 254.94 110.48)" text-anchor="end" dominant-baseline="central" style="font-size:9.5px" fill="#111" stroke="#111">Lm1534</text>
<text x="248.42" y="51.54" transform="rotate(83.69 248.42 51.54)" text-anchor="end" dominant-baseline="central" style="font-size:7.85px" fill="#D080F0" stroke="#D080F0" stroke-width="0.18">CC6</text>
<text x="245.73" y="27.19" transform="rotate(83.69 245.73 27.19)" text-anchor="end" dominant-baseline="central" style="font-size:7.85px" fill="#111" stroke="#111">ST-6</text>
<text x="261.65" y="109.88" transform="rotate(86.06 261.65 109.88)" text-anchor="end" dominant-baseline="central" style="font-size:9.5px" fill="#111" stroke="#111">LmMQ150005</text>
<text x="257.58" y="50.72" transform="rotate(86.06 257.58 50.72)" text-anchor="end" dominant-baseline="central" style="font-size:7.85px" fill="#D080F0" stroke="#D080F0" stroke-width="0.18">CC6</text>
<text x="255.89" y="26.28" transform="rotate(86.06 255.89 26.28)" text-anchor="end" dominant-baseline="central" style="font-size:7.85px" fill="#111" stroke="#111">ST-6</text>
<text x="268.37" y="109.56" transform="rotate(88.44 268.37 109.56)" text-anchor="end" dominant-baseline="central" style="font-size:9.5px" fill="#111" stroke="#111">LmMQ130058</text>
<text x="266.75" y="50.28" transform="rotate(88.44 266.75 50.28)" text-anchor="end" dominant-baseline="central" style="font-size:7.85px" fill="#D080F0" stroke="#D080F0" stroke-width="0.18">CC6</text>
<text x="266.09" y="25.79" transform="rotate(88.44 266.09 25.79)" text-anchor="end" dominant-baseline="central" style="font-size:7.85px" fill="#111" stroke="#111">ST-6</text>
<text x="275.10" y="109.52" transform="rotate(270.81 275.10 109.52)" text-anchor="start" dominant-baseline="central" style="font-size:9.5px" fill="#111" stroke="#111">Lm1392</text>
<text x="275.94" y="50.22" transform="rotate(270.81 275.94 50.22)" text-anchor="start" dominant-baseline="central" style="font-size:7.85px" fill="#D080F0" stroke="#D080F0" stroke-width="0.18">CC6</text>
<text x="276.29" y="25.72" transform="rotate(270.81 276.29 25.72)" text-anchor="start" dominant-baseline="central" style="font-size:7.85px" fill="#111" stroke="#111">ST-6</text>
<text x="281.83" y="109.75" transform="rotate(273.19 281.83 109.75)" text-anchor="start" dominant-baseline="central" style="font-size:9.5px" fill="#111" stroke="#111">Lm2259</text>
<text x="285.13" y="50.54" transform="rotate(273.19 285.13 50.54)" text-anchor="start" dominant-baseline="central" style="font-size:7.85px" fill="#7A88FF" stroke="#7A88FF" stroke-width="0.18">CC4</text>
<text x="286.49" y="26.08" transform="rotate(273.19 286.49 26.08)" text-anchor="start" dominant-baseline="central" style="font-size:7.85px" fill="#111" stroke="#111">ST-54</text>
<text x="288.54" y="110.26" transform="rotate(275.56 288.54 110.26)" text-anchor="start" dominant-baseline="central" style="font-size:9.5px" fill="#111" stroke="#111">Lm2095</text>
<text x="294.29" y="51.24" transform="rotate(275.56 294.29 51.24)" text-anchor="start" dominant-baseline="central" style="font-size:7.85px" fill="#7A88FF" stroke="#7A88FF" stroke-width="0.18">CC4</text>
<text x="296.66" y="26.86" transform="rotate(275.56 296.66 26.86)" text-anchor="start" dominant-baseline="central" style="font-size:7.85px" fill="#111" stroke="#111">ST-54</text>
<text x="295.23" y="111.06" transform="rotate(277.93 295.23 111.06)" text-anchor="start" dominant-baseline="central" style="font-size:9.5px" fill="#111" stroke="#111">Lm2105</text>
<text x="303.42" y="52.32" transform="rotate(277.93 303.42 52.32)" text-anchor="start" dominant-baseline="central" style="font-size:7.85px" fill="#7A88FF" stroke="#7A88FF" stroke-width="0.18">CC4</text>
<text x="306.80" y="28.06" transform="rotate(277.93 306.80 28.06)" text-anchor="start" dominant-baseline="central" style="font-size:7.85px" fill="#111" stroke="#111">ST-54</text>
<text x="301.88" y="112.12" transform="rotate(280.31 301.88 112.12)" text-anchor="start" dominant-baseline="central" style="font-size:9.5px" fill="#111" stroke="#111">Lm1391</text>
<text x="312.49" y="53.78" transform="rotate(280.31 312.49 53.78)" text-anchor="start" dominant-baseline="central" style="font-size:7.85px" fill="#7A88FF" stroke="#7A88FF" stroke-width="0.18">CC4</text>
<text x="316.87" y="29.68" transform="rotate(280.31 316.87 29.68)" text-anchor="start" dominant-baseline="central" style="font-size:7.85px" fill="#111" stroke="#111">ST-54</text>
<text x="308.48" y="113.46" transform="rotate(282.68 308.48 113.46)" text-anchor="start" dominant-baseline="central" style="font-size:9.5px" fill="#111" stroke="#111">Lm3446</text>
<text x="321.49" y="55.61" transform="rotate(282.68 321.49 55.61)" text-anchor="start" dominant-baseline="central" style="font-size:7.85px" fill="#7A88FF" stroke="#7A88FF" stroke-width="0.18">CC4</text>
<text x="326.87" y="31.71" transform="rotate(282.68 326.87 31.71)" text-anchor="start" dominant-baseline="central" style="font-size:7.85px" fill="#111" stroke="#111">ST-54</text>
<text x="315.01" y="115.08" transform="rotate(285.06 315.01 115.08)" text-anchor="start" dominant-baseline="central" style="font-size:9.5px" fill="#111" stroke="#111">Lm3445</text>
<text x="330.42" y="57.81" transform="rotate(285.06 330.42 57.81)" text-anchor="start" dominant-baseline="central" style="font-size:7.85px" fill="#7A88FF" stroke="#7A88FF" stroke-width="0.18">CC4</text>
<text x="336.78" y="34.15" transform="rotate(285.06 336.78 34.15)" text-anchor="start" dominant-baseline="central" style="font-size:7.85px" fill="#111" stroke="#111">ST-54</text>
<text x="321.48" y="116.96" transform="rotate(287.43 321.48 116.96)" text-anchor="start" dominant-baseline="central" style="font-size:9.5px" fill="#111" stroke="#111">LmMQ150004</text>
<text x="339.24" y="60.38" transform="rotate(287.43 339.24 60.38)" text-anchor="start" dominant-baseline="central" style="font-size:7.85px" fill="#7A88FF" stroke="#7A88FF" stroke-width="0.18">CC4</text>
<text x="346.58" y="37.01" transform="rotate(287.43 346.58 37.01)" text-anchor="start" dominant-baseline="central" style="font-size:7.85px" fill="#111" stroke="#111">ST-54</text>
<text x="327.86" y="119.11" transform="rotate(289.80 327.86 119.11)" text-anchor="start" dominant-baseline="central" style="font-size:9.5px" fill="#111" stroke="#111">LmMQ130033</text>
<text x="347.95" y="63.32" transform="rotate(289.80 347.95 63.32)" text-anchor="start" dominant-baseline="central" style="font-size:7.85px" fill="#7A88FF" stroke="#7A88FF" stroke-width="0.18">CC4</text>
<text x="356.25" y="40.27" transform="rotate(289.80 356.25 40.27)" text-anchor="start" dominant-baseline="central" style="font-size:7.85px" fill="#111" stroke="#111">ST-54</text>
<text x="334.14" y="121.52" transform="rotate(292.18 334.14 121.52)" text-anchor="start" dominant-baseline="central" style="font-size:9.5px" fill="#111" stroke="#111">Lm1390</text>
<text x="356.53" y="66.61" transform="rotate(292.18 356.53 66.61)" text-anchor="start" dominant-baseline="central" style="font-size:7.85px" fill="#1EAAF0" stroke="#1EAAF0" stroke-width="0.18">CC4</text>
<text x="365.77" y="43.92" transform="rotate(292.18 365.77 43.92)" text-anchor="start" dominant-baseline="central" style="font-size:7.85px" fill="#111" stroke="#111">ST-4</text>
<text x="340.32" y="124.19" transform="rotate(294.55 340.32 124.19)" text-anchor="start" dominant-baseline="central" style="font-size:9.5px" fill="#111" stroke="#111">Lm1382</text>
<text x="364.96" y="70.25" transform="rotate(294.55 364.96 70.25)" text-anchor="start" dominant-baseline="central" style="font-size:7.85px" fill="#1EAAF0" stroke="#1EAAF0" stroke-width="0.18">CC4</text>
<text x="375.14" y="47.97" transform="rotate(294.55 375.14 47.97)" text-anchor="start" dominant-baseline="central" style="font-size:7.85px" fill="#111" stroke="#111">ST-4</text>
<text x="346.39" y="127.12" transform="rotate(296.93 346.39 127.12)" text-anchor="start" dominant-baseline="central" style="font-size:9.5px" fill="#111" stroke="#111">LmMQ140030</text>
<text x="373.24" y="74.24" transform="rotate(296.93 373.24 74.24)" text-anchor="start" dominant-baseline="central" style="font-size:7.85px" fill="#1EAAF0" stroke="#1EAAF0" stroke-width="0.18">CC4</text>
<text x="384.33" y="52.40" transform="rotate(296.93 384.33 52.40)" text-anchor="start" dominant-baseline="central" style="font-size:7.85px" fill="#111" stroke="#111">ST-4</text>
<text x="352.32" y="130.29" transform="rotate(299.30 352.32 130.29)" text-anchor="start" dominant-baseline="central" style="font-size:9.5px" fill="#111" stroke="#111">LmF347-16</text>
<text x="381.35" y="78.58" transform="rotate(299.30 381.35 78.58)" text-anchor="start" dominant-baseline="central" style="font-size:7.85px" fill="#2AA8F0" stroke="#2AA8F0" stroke-width="0.18">CC5</text>
<text x="393.33" y="57.21" transform="rotate(299.30 393.33 57.21)" text-anchor="start" dominant-baseline="central" style="font-size:7.85px" fill="#111" stroke="#111">ST-5</text>
<text x="358.13" y="133.70" transform="rotate(301.67 358.13 133.70)" text-anchor="start" dominant-baseline="central" style="font-size:9.5px" fill="#111" stroke="#111">LmF2166-17</text>
<text x="389.26" y="83.24" transform="rotate(301.67 389.26 83.24)" text-anchor="start" dominant-baseline="central" style="font-size:7.85px" fill="#2AA8F0" stroke="#2AA8F0" stroke-width="0.18">CC5</text>
<text x="402.13" y="62.39" transform="rotate(301.67 402.13 62.39)" text-anchor="start" dominant-baseline="central" style="font-size:7.85px" fill="#111" stroke="#111">ST-5</text>
<text x="363.78" y="137.36" transform="rotate(304.05 363.78 137.36)" text-anchor="start" dominant-baseline="central" style="font-size:9.5px" fill="#111" stroke="#111">LmF991-16</text>
<text x="396.98" y="88.22" transform="rotate(304.05 396.98 88.22)" text-anchor="start" dominant-baseline="central" style="font-size:7.85px" fill="#2AA8F0" stroke="#2AA8F0" stroke-width="0.18">CC5</text>
<text x="410.70" y="67.92" transform="rotate(304.05 410.70 67.92)" text-anchor="start" dominant-baseline="central" style="font-size:7.85px" fill="#111" stroke="#111">ST-5</text>
<text x="369.28" y="141.24" transform="rotate(306.42 369.28 141.24)" text-anchor="start" dominant-baseline="central" style="font-size:9.5px" fill="#111" stroke="#111">LmF2299-15</text>
<text x="404.49" y="93.53" transform="rotate(306.42 404.49 93.53)" text-anchor="start" dominant-baseline="central" style="font-size:7.85px" fill="#2AA8F0" stroke="#2AA8F0" stroke-width="0.18">CC5</text>
<text x="419.04" y="73.81" transform="rotate(306.42 419.04 73.81)" text-anchor="start" dominant-baseline="central" style="font-size:7.85px" fill="#111" stroke="#111">ST-5</text>
<text x="374.61" y="145.35" transform="rotate(308.80 374.61 145.35)" text-anchor="start" dominant-baseline="central" style="font-size:9.5px" fill="#111" stroke="#111">LmF2176-17</text>
<text x="411.77" y="99.13" transform="rotate(308.80 411.77 99.13)" text-anchor="start" dominant-baseline="central" style="font-size:7.85px" fill="#2AA8F0" stroke="#2AA8F0" stroke-width="0.18">CC5</text>
<text x="427.12" y="80.04" transform="rotate(308.80 427.12 80.04)" text-anchor="start" dominant-baseline="central" style="font-size:7.85px" fill="#111" stroke="#111">ST-5</text>
<text x="379.77" y="149.68" transform="rotate(311.17 379.77 149.68)" text-anchor="start" dominant-baseline="central" style="font-size:9.5px" fill="#111" stroke="#111">LmF1524-16</text>
<text x="418.81" y="105.04" transform="rotate(311.17 418.81 105.04)" text-anchor="start" dominant-baseline="central" style="font-size:7.85px" fill="#2AA8F0" stroke="#2AA8F0" stroke-width="0.18">CC5</text>
<text x="434.94" y="86.60" transform="rotate(311.17 434.94 86.60)" text-anchor="start" dominant-baseline="central" style="font-size:7.85px" fill="#111" stroke="#111">ST-5</text>
<text x="384.75" y="154.21" transform="rotate(313.54 384.75 154.21)" text-anchor="start" dominant-baseline="central" style="font-size:9.5px" fill="#111" stroke="#111">LmF742-17</text>
<text x="425.60" y="111.23" transform="rotate(313.54 425.60 111.23)" text-anchor="start" dominant-baseline="central" style="font-size:7.85px" fill="#2AA8F0" stroke="#2AA8F0" stroke-width="0.18">CC5</text>
<text x="442.48" y="93.47" transform="rotate(313.54 442.48 93.47)" text-anchor="start" dominant-baseline="central" style="font-size:7.85px" fill="#111" stroke="#111">ST-5</text>
<text x="389.53" y="158.95" transform="rotate(315.92 389.53 158.95)" text-anchor="start" dominant-baseline="central" style="font-size:9.5px" fill="#111" stroke="#111">LmF671-16</text>
<text x="432.13" y="117.70" transform="rotate(315.92 432.13 117.70)" text-anchor="start" dominant-baseline="central" style="font-size:7.85px" fill="#2AA8F0" stroke="#2AA8F0" stroke-width="0.18">CC5</text>
<text x="449.73" y="100.65" transform="rotate(315.92 449.73 100.65)" text-anchor="start" dominant-baseline="central" style="font-size:7.85px" fill="#111" stroke="#111">ST-5</text>
<text x="394.11" y="163.88" transform="rotate(318.29 394.11 163.88)" text-anchor="start" dominant-baseline="central" style="font-size:9.5px" fill="#111" stroke="#111">LmF1644-17</text>
<text x="438.38" y="124.43" transform="rotate(318.29 438.38 124.43)" text-anchor="start" dominant-baseline="central" style="font-size:7.85px" fill="#2AA8F0" stroke="#2AA8F0" stroke-width="0.18">CC5</text>
<text x="456.67" y="108.13" transform="rotate(318.29 456.67 108.13)" text-anchor="start" dominant-baseline="central" style="font-size:7.85px" fill="#111" stroke="#111">ST-5</text>
<text x="398.49" y="169.00" transform="rotate(320.67 398.49 169.00)" text-anchor="start" dominant-baseline="central" style="font-size:9.5px" fill="#111" stroke="#111">LmF1857-15</text>
<text x="444.35" y="131.41" transform="rotate(320.67 444.35 131.41)" text-anchor="start" dominant-baseline="central" style="font-size:7.85px" fill="#2AA8F0" stroke="#2AA8F0" stroke-width="0.18">CC5</text>
<text x="463.30" y="115.89" transform="rotate(320.67 463.30 115.89)" text-anchor="start" dominant-baseline="central" style="font-size:7.85px" fill="#111" stroke="#111">ST-5</text>
<text x="402.65" y="174.30" transform="rotate(323.04 402.65 174.30)" text-anchor="start" dominant-baseline="central" style="font-size:9.5px" fill="#111" stroke="#111">Lm1441</text>
<text x="450.03" y="138.64" transform="rotate(323.04 450.03 138.64)" text-anchor="start" dominant-baseline="central" style="font-size:7.85px" fill="#2AA8F0" stroke="#2AA8F0" stroke-width="0.18">CC5</text>
<text x="469.61" y="123.91" transform="rotate(323.04 469.61 123.91)" text-anchor="start" dominant-baseline="central" style="font-size:7.85px" fill="#111" stroke="#111">ST-5</text>
<text x="406.58" y="179.76" transform="rotate(325.41 406.58 179.76)" text-anchor="start" dominant-baseline="central" style="font-size:9.5px" fill="#111" stroke="#111">Lm1386</text>
<text x="455.40" y="146.10" transform="rotate(325.41 455.40 146.10)" text-anchor="start" dominant-baseline="central" style="font-size:7.85px" fill="#2AA8F0" stroke="#2AA8F0" stroke-width="0.18">CC5</text>
<text x="475.57" y="132.19" transform="rotate(325.41 475.57 132.19)" text-anchor="start" dominant-baseline="central" style="font-size:7.85px" fill="#111" stroke="#111">ST-5</text>
<text x="410.29" y="185.38" transform="rotate(327.79 410.29 185.38)" text-anchor="start" dominant-baseline="central" style="font-size:9.5px" fill="#111" stroke="#111">Lm1378</text>
<text x="460.46" y="153.77" transform="rotate(327.79 460.46 153.77)" text-anchor="start" dominant-baseline="central" style="font-size:7.85px" fill="#2AA8F0" stroke="#2AA8F0" stroke-width="0.18">CC5</text>
<text x="481.19" y="140.71" transform="rotate(327.79 481.19 140.71)" text-anchor="start" dominant-baseline="central" style="font-size:7.85px" fill="#111" stroke="#111">ST-5</text>
<text x="413.76" y="191.15" transform="rotate(330.16 413.76 191.15)" text-anchor="start" dominant-baseline="central" style="font-size:9.5px" fill="#111" stroke="#111">Lm1268</text>
<text x="465.20" y="161.64" transform="rotate(330.16 465.20 161.64)" text-anchor="start" dominant-baseline="central" style="font-size:7.85px" fill="#20B050" stroke="#20B050" stroke-width="0.18">CC224</text>
<text x="486.45" y="149.45" transform="rotate(330.16 486.45 149.45)" text-anchor="start" dominant-baseline="central" style="font-size:7.85px" fill="#111" stroke="#111">ST-224</text>
<text x="416.99" y="197.06" transform="rotate(332.54 416.99 197.06)" text-anchor="start" dominant-baseline="central" style="font-size:9.5px" fill="#111" stroke="#111">Lm2241</text>
<text x="469.60" y="169.71" transform="rotate(332.54 469.60 169.71)" text-anchor="start" dominant-baseline="central" style="font-size:7.85px" fill="#A090F0" stroke="#A090F0" stroke-width="0.18">CC59</text>
<text x="491.34" y="158.41" transform="rotate(332.54 491.34 158.41)" text-anchor="start" dominant-baseline="central" style="font-size:7.85px" fill="#111" stroke="#111">ST-59</text>
<text x="419.97" y="203.09" transform="rotate(334.91 419.97 203.09)" text-anchor="start" dominant-baseline="central" style="font-size:9.5px" fill="#111" stroke="#111">Lm1093</text>
<text x="473.67" y="177.95" transform="rotate(334.91 473.67 177.95)" text-anchor="start" dominant-baseline="central" style="font-size:7.85px" fill="#A090F0" stroke="#A090F0" stroke-width="0.18">CC59</text>
<text x="495.86" y="167.56" transform="rotate(334.91 495.86 167.56)" text-anchor="start" dominant-baseline="central" style="font-size:7.85px" fill="#111" stroke="#111">ST-59</text>
<text x="422.69" y="209.25" transform="rotate(337.28 422.69 209.25)" text-anchor="start" dominant-baseline="central" style="font-size:9.5px" fill="#111" stroke="#111">Lm1055</text>
<text x="477.40" y="186.35" transform="rotate(337.28 477.40 186.35)" text-anchor="start" dominant-baseline="central" style="font-size:7.85px" fill="#A090F0" stroke="#A090F0" stroke-width="0.18">CC59</text>
<text x="499.99" y="176.89" transform="rotate(337.28 499.99 176.89)" text-anchor="start" dominant-baseline="central" style="font-size:7.85px" fill="#111" stroke="#111">ST-59</text>
<text x="425.17" y="215.51" transform="rotate(339.66 425.17 215.51)" text-anchor="start" dominant-baseline="central" style="font-size:9.5px" fill="#111" stroke="#111">Lm2240</text>
<text x="480.77" y="194.90" transform="rotate(339.66 480.77 194.90)" text-anchor="start" dominant-baseline="central" style="font-size:7.85px" fill="#A090F0" stroke="#A090F0" stroke-width="0.18">CC59</text>
<text x="503.74" y="186.38" transform="rotate(339.66 503.74 186.38)" text-anchor="start" dominant-baseline="central" style="font-size:7.85px" fill="#111" stroke="#111">ST-59</text>
<text x="427.37" y="221.87" transform="rotate(342.03 427.37 221.87)" text-anchor="start" dominant-baseline="central" style="font-size:9.5px" fill="#111" stroke="#111">Lm3447</text>
<text x="483.78" y="203.58" transform="rotate(342.03 483.78 203.58)" text-anchor="start" dominant-baseline="central" style="font-size:7.85px" fill="#A090F0" stroke="#A090F0" stroke-width="0.18">CC59</text>
<text x="507.09" y="196.02" transform="rotate(342.03 507.09 196.02)" text-anchor="start" dominant-baseline="central" style="font-size:7.85px" fill="#111" stroke="#111">ST-59</text>
<text x="429.32" y="228.32" transform="rotate(344.41 429.32 228.32)" text-anchor="start" dominant-baseline="central" style="font-size:9.5px" fill="#111" stroke="#111">Lm1384</text>
<text x="486.44" y="212.38" transform="rotate(344.41 486.44 212.38)" text-anchor="start" dominant-baseline="central" style="font-size:7.85px" fill="#A090F0" stroke="#A090F0" stroke-width="0.18">CC59</text>
<text x="510.03" y="205.79" transform="rotate(344.41 510.03 205.79)" text-anchor="start" dominant-baseline="central" style="font-size:7.85px" fill="#111" stroke="#111">ST-59</text>
<text x="430.99" y="234.84" transform="rotate(346.78 430.99 234.84)" text-anchor="start" dominant-baseline="central" style="font-size:9.5px" fill="#111" stroke="#111">Lm2298</text>
<text x="488.72" y="221.28" transform="rotate(346.78 488.72 221.28)" text-anchor="start" dominant-baseline="central" style="font-size:7.85px" fill="#1CB8D0" stroke="#1CB8D0" stroke-width="0.18">CC379</text>
<text x="512.57" y="215.67" transform="rotate(346.78 512.57 215.67)" text-anchor="start" dominant-baseline="central" style="font-size:7.85px" fill="#111" stroke="#111">ST-808</text>
<text x="432.40" y="241.42" transform="rotate(349.15 432.40 241.42)" text-anchor="start" dominant-baseline="central" style="font-size:9.5px" fill="#111" stroke="#111">Lm3442</text>
<text x="490.64" y="230.26" transform="rotate(349.15 490.64 230.26)" text-anchor="start" dominant-baseline="central" style="font-size:7.85px" fill="#F050A8" stroke="#F050A8" stroke-width="0.18">CC87</text>
<text x="514.70" y="225.65" transform="rotate(349.15 514.70 225.65)" text-anchor="start" dominant-baseline="central" style="font-size:7.85px" fill="#111" stroke="#111">ST-87</text>
<text x="433.53" y="248.06" transform="rotate(351.53 433.53 248.06)" text-anchor="start" dominant-baseline="central" style="font-size:9.5px" fill="#111" stroke="#111">Lm1376</text>
<text x="492.18" y="239.32" transform="rotate(351.53 492.18 239.32)" text-anchor="start" dominant-baseline="central" style="font-size:7.85px" fill="#1CC090" stroke="#1CC090" stroke-width="0.18">CC3</text>
<text x="516.41" y="235.71" transform="rotate(351.53 516.41 235.71)" text-anchor="start" dominant-baseline="central" style="font-size:7.85px" fill="#111" stroke="#111">ST-3</text>
<text x="434.38" y="254.74" transform="rotate(353.90 434.38 254.74)" text-anchor="start" dominant-baseline="central" style="font-size:9.5px" fill="#111" stroke="#111">Lm1372</text>
<text x="493.34" y="248.44" transform="rotate(353.90 493.34 248.44)" text-anchor="start" dominant-baseline="central" style="font-size:7.85px" fill="#1CC090" stroke="#1CC090" stroke-width="0.18">CC3</text>
<text x="517.71" y="245.84" transform="rotate(353.90 517.71 245.84)" text-anchor="start" dominant-baseline="central" style="font-size:7.85px" fill="#111" stroke="#111">ST-3</text>
<text x="434.96" y="261.45" transform="rotate(356.28 434.96 261.45)" text-anchor="start" dominant-baseline="central" style="font-size:9.5px" fill="#111" stroke="#111">Lm1374</text>
<text x="494.13" y="257.59" transform="rotate(356.28 494.13 257.59)" text-anchor="start" dominant-baseline="central" style="font-size:7.85px" fill="#1CC090" stroke="#1CC090" stroke-width="0.18">CC3</text>
<text x="518.58" y="256.00" transform="rotate(356.28 518.58 256.00)" text-anchor="start" dominant-baseline="central" style="font-size:7.85px" fill="#111" stroke="#111">ST-3</text>
<g font-weight="bold" font-size="9.4px">
<rect x="234.8" y="148.4" width="42.2" height="11.8" rx="1.5" fill="#fff" stroke="#444" stroke-width="0.8"/>
<text x="255.9" y="154.4" text-anchor="middle" dominant-baseline="central" fill="#111">Lineage I</text>
<rect x="248" y="385.8" width="45.6" height="12.3" rx="1.5" fill="#fff" stroke="#444" stroke-width="0.8"/>
<text x="270.8" y="392.0" text-anchor="middle" dominant-baseline="central" fill="#111">Lineage II</text>
</g></g></g></svg></body></html>
